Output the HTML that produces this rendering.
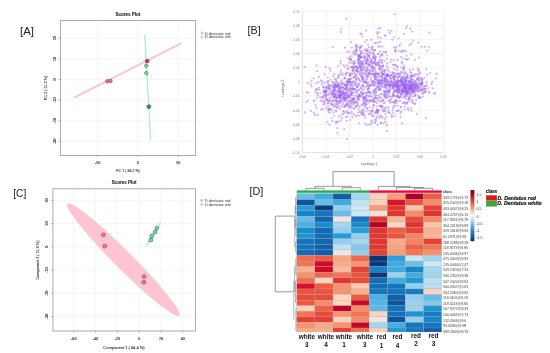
<!DOCTYPE html><html><head><meta charset="utf-8"><style>html,body{margin:0;padding:0;background:#fff;}svg{display:block;filter:blur(0.3px);}text{font-family:"Liberation Sans", sans-serif;}</style></head><body>
<svg width="550" height="353" viewBox="0 0 550 353">
<rect width="550" height="353" fill="#fff"/>
<text x="20.0" y="35.0" font-size="11.6" fill="#222" textLength="14.0" lengthAdjust="spacingAndGlyphs">[A]</text>
<text x="247.6" y="33.8" font-size="11.6" fill="#222" textLength="13.1" lengthAdjust="spacingAndGlyphs">[B]</text>
<text x="13.3" y="196.8" font-size="11.6" fill="#222" textLength="13.0" lengthAdjust="spacingAndGlyphs">[C]</text>
<text x="249.4" y="195.3" font-size="11.6" fill="#222" textLength="13.9" lengthAdjust="spacingAndGlyphs">[D]</text>
<line x1="97.7" y1="20.5" x2="97.7" y2="155.5" stroke="#ececec" stroke-width="0.5"/>
<line x1="137.9" y1="20.5" x2="137.9" y2="155.5" stroke="#ececec" stroke-width="0.5"/>
<line x1="178.2" y1="20.5" x2="178.2" y2="155.5" stroke="#ececec" stroke-width="0.5"/>
<line x1="60.4" y1="38.3" x2="195.6" y2="38.3" stroke="#ececec" stroke-width="0.5"/>
<line x1="60.4" y1="58.9" x2="195.6" y2="58.9" stroke="#ececec" stroke-width="0.5"/>
<line x1="60.4" y1="79.5" x2="195.6" y2="79.5" stroke="#ececec" stroke-width="0.5"/>
<line x1="60.4" y1="100.1" x2="195.6" y2="100.1" stroke="#ececec" stroke-width="0.5"/>
<line x1="60.4" y1="120.7" x2="195.6" y2="120.7" stroke="#ececec" stroke-width="0.5"/>
<line x1="60.4" y1="141.3" x2="195.6" y2="141.3" stroke="#ececec" stroke-width="0.5"/>
<line x1="74.7" y1="97.4" x2="180.5" y2="43.6" stroke="#FBC6D1" stroke-width="2.0" stroke-linecap="round"/>
<line x1="144.7" y1="35" x2="150.6" y2="140.6" stroke="#B4EBCD" stroke-width="1.3"/>
<circle cx="107.3" cy="81.3" r="1.75" fill="#EE7C9A" stroke="#7A2A40" stroke-width="0.55"/>
<circle cx="110.5" cy="80.9" r="1.75" fill="#EE7C9A" stroke="#7A2A40" stroke-width="0.55"/>
<circle cx="146.3" cy="65.7" r="1.75" fill="#78DDA4" stroke="#2E5E42" stroke-width="0.55"/>
<circle cx="146.3" cy="73.1" r="1.75" fill="#78DDA4" stroke="#2E5E42" stroke-width="0.55"/>
<circle cx="148.6" cy="106.9" r="1.75" fill="#78DDA4" stroke="#2E5E42" stroke-width="0.55"/>
<circle cx="149.1" cy="106.4" r="1.75" fill="#2FA060" stroke="#2E5E42" stroke-width="0.55"/>
<circle cx="147.2" cy="61" r="1.85" fill="#E8305A" stroke="#5A1A2A" stroke-width="0.55"/>
<rect x="60.4" y="20.5" width="135.2" height="135" fill="none" stroke="#a2a2a2" stroke-width="0.9"/>
<line x1="97.7" y1="155.5" x2="97.7" y2="157.3" stroke="#777" stroke-width="0.5"/>
<text x="97.7" y="163.6" font-size="3.7" fill="#333" stroke="#333" stroke-width="0.12" text-anchor="middle">-50</text>
<line x1="137.9" y1="155.5" x2="137.9" y2="157.3" stroke="#777" stroke-width="0.5"/>
<text x="137.9" y="163.6" font-size="3.7" fill="#333" stroke="#333" stroke-width="0.12" text-anchor="middle">0</text>
<line x1="178.2" y1="155.5" x2="178.2" y2="157.3" stroke="#777" stroke-width="0.5"/>
<text x="178.2" y="163.6" font-size="3.7" fill="#333" stroke="#333" stroke-width="0.12" text-anchor="middle">50</text>
<line x1="58.6" y1="38.3" x2="60.4" y2="38.3" stroke="#777" stroke-width="0.5"/>
<text x="54.8" y="39.6" font-size="3.7" fill="#333" stroke="#333" stroke-width="0.12" text-anchor="middle" transform="rotate(-90 54.8 38.3)">20</text>
<line x1="58.6" y1="58.9" x2="60.4" y2="58.9" stroke="#777" stroke-width="0.5"/>
<text x="54.8" y="60.2" font-size="3.7" fill="#333" stroke="#333" stroke-width="0.12" text-anchor="middle" transform="rotate(-90 54.8 58.9)">10</text>
<line x1="58.6" y1="79.5" x2="60.4" y2="79.5" stroke="#777" stroke-width="0.5"/>
<text x="54.8" y="80.8" font-size="3.7" fill="#333" stroke="#333" stroke-width="0.12" text-anchor="middle" transform="rotate(-90 54.8 79.5)">0</text>
<line x1="58.6" y1="100.1" x2="60.4" y2="100.1" stroke="#777" stroke-width="0.5"/>
<text x="54.8" y="101.4" font-size="3.7" fill="#333" stroke="#333" stroke-width="0.12" text-anchor="middle" transform="rotate(-90 54.8 100.1)">-10</text>
<line x1="58.6" y1="120.7" x2="60.4" y2="120.7" stroke="#777" stroke-width="0.5"/>
<text x="54.8" y="122" font-size="3.7" fill="#333" stroke="#333" stroke-width="0.12" text-anchor="middle" transform="rotate(-90 54.8 120.7)">-20</text>
<line x1="58.6" y1="141.3" x2="60.4" y2="141.3" stroke="#777" stroke-width="0.5"/>
<text x="54.8" y="142.6" font-size="3.7" fill="#333" stroke="#333" stroke-width="0.12" text-anchor="middle" transform="rotate(-90 54.8 141.3)">-30</text>
<text x="128" y="16.1" font-size="4.5" font-weight="bold" fill="#222" stroke="#222" stroke-width="0.1" text-anchor="middle">Scores Plot</text>
<text x="128" y="172.3" font-size="3.6" fill="#333" stroke="#333" stroke-width="0.1" text-anchor="middle">PC 1 ( 66.2 %)</text>
<text x="45.6" y="88" font-size="3.8" fill="#333" stroke="#333" stroke-width="0.1" text-anchor="middle" transform="rotate(-90 45.6 88) translate(0 1.2)">PC 2 ( 11.2 %)</text>
<circle cx="202.1" cy="33" r="1.4" fill="#F9AFC0"/>
<circle cx="201.9" cy="36.8" r="1.4" fill="#A6E6C2"/>
<text x="205" y="34.5" font-size="3.9" fill="#333">D.dentatus red</text>
<text x="205" y="38.3" font-size="3.9" fill="#333">D.dentatus whi</text>
<line x1="73.8" y1="188.8" x2="73.8" y2="331" stroke="#ececec" stroke-width="0.5"/>
<line x1="95.6" y1="188.8" x2="95.6" y2="331" stroke="#ececec" stroke-width="0.5"/>
<line x1="117.4" y1="188.8" x2="117.4" y2="331" stroke="#ececec" stroke-width="0.5"/>
<line x1="139.3" y1="188.8" x2="139.3" y2="331" stroke="#ececec" stroke-width="0.5"/>
<line x1="161" y1="188.8" x2="161" y2="331" stroke="#ececec" stroke-width="0.5"/>
<line x1="182.7" y1="188.8" x2="182.7" y2="331" stroke="#ececec" stroke-width="0.5"/>
<line x1="52.9" y1="200.4" x2="195.4" y2="200.4" stroke="#ececec" stroke-width="0.5"/>
<line x1="52.9" y1="223.6" x2="195.4" y2="223.6" stroke="#ececec" stroke-width="0.5"/>
<line x1="52.9" y1="246.8" x2="195.4" y2="246.8" stroke="#ececec" stroke-width="0.5"/>
<line x1="52.9" y1="270" x2="195.4" y2="270" stroke="#ececec" stroke-width="0.5"/>
<line x1="52.9" y1="293.3" x2="195.4" y2="293.3" stroke="#ececec" stroke-width="0.5"/>
<line x1="52.9" y1="316.5" x2="195.4" y2="316.5" stroke="#ececec" stroke-width="0.5"/>
<ellipse cx="123.4" cy="259.8" rx="79.4" ry="9.0" fill="#FCC5D1" transform="rotate(45 123.4 259.8)"/>
<ellipse cx="153.4" cy="234.3" rx="14.6" ry="1.3" fill="#B6EACB" transform="rotate(-59 153.4 234.3)"/>
<circle cx="103.4" cy="234.8" r="1.9" fill="#EE7C9A" stroke="#7A2A40" stroke-width="0.55"/>
<circle cx="104.7" cy="246.1" r="1.9" fill="#EE7C9A" stroke="#7A2A40" stroke-width="0.55"/>
<circle cx="144.2" cy="276.6" r="1.9" fill="#EE7C9A" stroke="#7A2A40" stroke-width="0.55"/>
<circle cx="143.8" cy="282.2" r="1.9" fill="#EE7C9A" stroke="#7A2A40" stroke-width="0.55"/>
<circle cx="156.8" cy="228.1" r="1.9" fill="#78DDA4" stroke="#2E5E42" stroke-width="0.55"/>
<circle cx="155.1" cy="232" r="1.9" fill="#78DDA4" stroke="#2E5E42" stroke-width="0.55"/>
<circle cx="151.7" cy="236" r="1.9" fill="#78DDA4" stroke="#2E5E42" stroke-width="0.55"/>
<circle cx="150.9" cy="240" r="1.9" fill="#78DDA4" stroke="#2E5E42" stroke-width="0.55"/>
<rect x="52.9" y="188.8" width="142.5" height="142.2" fill="none" stroke="#a2a2a2" stroke-width="0.9"/>
<line x1="73.8" y1="331" x2="73.8" y2="332.8" stroke="#777" stroke-width="0.5"/>
<text x="73.8" y="339.6" font-size="3.7" fill="#333" stroke="#333" stroke-width="0.12" text-anchor="middle">-60</text>
<line x1="95.6" y1="331" x2="95.6" y2="332.8" stroke="#777" stroke-width="0.5"/>
<text x="95.6" y="339.6" font-size="3.7" fill="#333" stroke="#333" stroke-width="0.12" text-anchor="middle">-40</text>
<line x1="117.4" y1="331" x2="117.4" y2="332.8" stroke="#777" stroke-width="0.5"/>
<text x="117.4" y="339.6" font-size="3.7" fill="#333" stroke="#333" stroke-width="0.12" text-anchor="middle">-20</text>
<line x1="139.3" y1="331" x2="139.3" y2="332.8" stroke="#777" stroke-width="0.5"/>
<text x="139.3" y="339.6" font-size="3.7" fill="#333" stroke="#333" stroke-width="0.12" text-anchor="middle">0</text>
<line x1="161" y1="331" x2="161" y2="332.8" stroke="#777" stroke-width="0.5"/>
<text x="161" y="339.6" font-size="3.7" fill="#333" stroke="#333" stroke-width="0.12" text-anchor="middle">20</text>
<line x1="182.7" y1="331" x2="182.7" y2="332.8" stroke="#777" stroke-width="0.5"/>
<text x="182.7" y="339.6" font-size="3.7" fill="#333" stroke="#333" stroke-width="0.12" text-anchor="middle">40</text>
<line x1="51.1" y1="200.4" x2="52.9" y2="200.4" stroke="#777" stroke-width="0.5"/>
<text x="46.3" y="201.7" font-size="3.7" fill="#333" stroke="#333" stroke-width="0.12" text-anchor="middle" transform="rotate(-90 46.3 200.4)">20</text>
<line x1="51.1" y1="223.6" x2="52.9" y2="223.6" stroke="#777" stroke-width="0.5"/>
<text x="46.3" y="224.9" font-size="3.7" fill="#333" stroke="#333" stroke-width="0.12" text-anchor="middle" transform="rotate(-90 46.3 223.6)">10</text>
<line x1="51.1" y1="246.8" x2="52.9" y2="246.8" stroke="#777" stroke-width="0.5"/>
<text x="46.3" y="248.1" font-size="3.7" fill="#333" stroke="#333" stroke-width="0.12" text-anchor="middle" transform="rotate(-90 46.3 246.8)">0</text>
<line x1="51.1" y1="270" x2="52.9" y2="270" stroke="#777" stroke-width="0.5"/>
<text x="46.3" y="271.3" font-size="3.7" fill="#333" stroke="#333" stroke-width="0.12" text-anchor="middle" transform="rotate(-90 46.3 270)">-10</text>
<line x1="51.1" y1="293.3" x2="52.9" y2="293.3" stroke="#777" stroke-width="0.5"/>
<text x="46.3" y="294.6" font-size="3.7" fill="#333" stroke="#333" stroke-width="0.12" text-anchor="middle" transform="rotate(-90 46.3 293.3)">-20</text>
<line x1="51.1" y1="316.5" x2="52.9" y2="316.5" stroke="#777" stroke-width="0.5"/>
<text x="46.3" y="317.8" font-size="3.7" fill="#333" stroke="#333" stroke-width="0.12" text-anchor="middle" transform="rotate(-90 46.3 316.5)">-30</text>
<text x="124.2" y="184.2" font-size="4.5" font-weight="bold" fill="#222" stroke="#222" stroke-width="0.1" text-anchor="middle">Scores Plot</text>
<text x="124" y="348.7" font-size="4.0" fill="#333" stroke="#333" stroke-width="0.1" text-anchor="middle">Component 1 ( 64.4 %)</text>
<text x="38.2" y="260" font-size="3.8" fill="#333" stroke="#333" stroke-width="0.1" text-anchor="middle" transform="rotate(-90 38.2 260) translate(0 1.2)">Component 2 ( 11.6 %)</text>
<circle cx="201.6" cy="200.5" r="1.4" fill="#F9AFC0"/>
<circle cx="201.6" cy="204.5" r="1.4" fill="#A6E6C2"/>
<text x="205" y="202.0" font-size="3.9" fill="#333">D.dentatus red</text>
<text x="205" y="206.0" font-size="3.9" fill="#333">D.dentatus whi</text>
<line x1="302.4" y1="11.2" x2="302.4" y2="152.6" stroke="#e6e6e6" stroke-width="0.5"/>
<text x="302.4" y="157.8" font-size="3.1" fill="#808080" text-anchor="middle">-0.06</text>
<line x1="325.9" y1="11.2" x2="325.9" y2="152.6" stroke="#e6e6e6" stroke-width="0.5"/>
<text x="325.9" y="157.8" font-size="3.1" fill="#808080" text-anchor="middle">-0.04</text>
<line x1="349.4" y1="11.2" x2="349.4" y2="152.6" stroke="#e6e6e6" stroke-width="0.5"/>
<text x="349.4" y="157.8" font-size="3.1" fill="#808080" text-anchor="middle">-0.02</text>
<line x1="372.9" y1="11.2" x2="372.9" y2="152.6" stroke="#e6e6e6" stroke-width="0.5"/>
<text x="372.9" y="157.8" font-size="3.1" fill="#808080" text-anchor="middle">0</text>
<line x1="396.4" y1="11.2" x2="396.4" y2="152.6" stroke="#e6e6e6" stroke-width="0.5"/>
<text x="396.4" y="157.8" font-size="3.1" fill="#808080" text-anchor="middle">0.02</text>
<line x1="419.9" y1="11.2" x2="419.9" y2="152.6" stroke="#e6e6e6" stroke-width="0.5"/>
<text x="419.9" y="157.8" font-size="3.1" fill="#808080" text-anchor="middle">0.04</text>
<line x1="443.4" y1="11.2" x2="443.4" y2="152.6" stroke="#e6e6e6" stroke-width="0.5"/>
<text x="443.4" y="157.8" font-size="3.1" fill="#808080" text-anchor="middle">0.06</text>
<line x1="302.4" y1="11.2" x2="443.4" y2="11.2" stroke="#e6e6e6" stroke-width="0.5"/>
<text x="299.6" y="12.6" font-size="3.1" fill="#808080" text-anchor="end">0.10</text>
<line x1="302.4" y1="25.34" x2="443.4" y2="25.34" stroke="#e6e6e6" stroke-width="0.5"/>
<text x="299.6" y="26.74" font-size="3.1" fill="#808080" text-anchor="end">0.08</text>
<line x1="302.4" y1="39.48" x2="443.4" y2="39.48" stroke="#e6e6e6" stroke-width="0.5"/>
<text x="299.6" y="40.88" font-size="3.1" fill="#808080" text-anchor="end">0.06</text>
<line x1="302.4" y1="53.62" x2="443.4" y2="53.62" stroke="#e6e6e6" stroke-width="0.5"/>
<text x="299.6" y="55.02" font-size="3.1" fill="#808080" text-anchor="end">0.04</text>
<line x1="302.4" y1="67.76" x2="443.4" y2="67.76" stroke="#e6e6e6" stroke-width="0.5"/>
<text x="299.6" y="69.16" font-size="3.1" fill="#808080" text-anchor="end">0.02</text>
<line x1="302.4" y1="81.9" x2="443.4" y2="81.9" stroke="#e6e6e6" stroke-width="0.5"/>
<text x="299.6" y="83.3" font-size="3.1" fill="#808080" text-anchor="end">0</text>
<line x1="302.4" y1="96.04" x2="443.4" y2="96.04" stroke="#e6e6e6" stroke-width="0.5"/>
<text x="299.6" y="97.44" font-size="3.1" fill="#808080" text-anchor="end">-0.02</text>
<line x1="302.4" y1="110.18" x2="443.4" y2="110.18" stroke="#e6e6e6" stroke-width="0.5"/>
<text x="299.6" y="111.58" font-size="3.1" fill="#808080" text-anchor="end">-0.04</text>
<line x1="302.4" y1="124.32" x2="443.4" y2="124.32" stroke="#e6e6e6" stroke-width="0.5"/>
<text x="299.6" y="125.72" font-size="3.1" fill="#808080" text-anchor="end">-0.06</text>
<line x1="302.4" y1="138.46" x2="443.4" y2="138.46" stroke="#e6e6e6" stroke-width="0.5"/>
<text x="299.6" y="139.86" font-size="3.1" fill="#808080" text-anchor="end">-0.08</text>
<line x1="302.4" y1="152.6" x2="443.4" y2="152.6" stroke="#e6e6e6" stroke-width="0.5"/>
<text x="299.6" y="154" font-size="3.1" fill="#808080" text-anchor="end">-0.10</text>
<line x1="302.4" y1="11.2" x2="302.4" y2="152.6" stroke="#d4d4d4" stroke-width="0.6"/>
<line x1="302.4" y1="152.6" x2="443.4" y2="152.6" stroke="#d4d4d4" stroke-width="0.6"/>
<text x="369" y="165.2" font-size="3.3" fill="#666" text-anchor="middle">Loadings 1</text>
<text x="282.8" y="88" font-size="3.5" fill="#666" text-anchor="middle" transform="rotate(-90 282.8 88) translate(0 1.1)">Loadings 2</text>
<g fill="#9A5FF2" fill-opacity="0.46">
<circle cx="403.2" cy="89.3" r="1.12"/>
<circle cx="403.5" cy="84.0" r="1.12"/>
<circle cx="395.8" cy="84.6" r="1.12"/>
<circle cx="418.2" cy="88.8" r="1.12"/>
<circle cx="417.4" cy="87.6" r="1.12"/>
<circle cx="410.3" cy="87.2" r="1.12"/>
<circle cx="387.7" cy="91.6" r="1.12"/>
<circle cx="411.6" cy="89.2" r="1.12"/>
<circle cx="387.4" cy="74.7" r="1.12"/>
<circle cx="396.2" cy="83.0" r="1.12"/>
<circle cx="409.4" cy="85.7" r="1.12"/>
<circle cx="411.7" cy="81.8" r="1.12"/>
<circle cx="409.4" cy="88.6" r="1.12"/>
<circle cx="398.7" cy="97.2" r="1.12"/>
<circle cx="412.1" cy="93.8" r="1.12"/>
<circle cx="399.2" cy="81.2" r="1.12"/>
<circle cx="402.2" cy="85.3" r="1.12"/>
<circle cx="413.0" cy="87.6" r="1.12"/>
<circle cx="401.1" cy="79.8" r="1.12"/>
<circle cx="400.3" cy="93.9" r="1.12"/>
<circle cx="397.1" cy="87.6" r="1.12"/>
<circle cx="410.7" cy="76.3" r="1.12"/>
<circle cx="406.5" cy="94.5" r="1.12"/>
<circle cx="383.8" cy="83.9" r="1.12"/>
<circle cx="404.8" cy="80.7" r="1.12"/>
<circle cx="411.5" cy="85.6" r="1.12"/>
<circle cx="389.9" cy="91.4" r="1.12"/>
<circle cx="413.4" cy="92.1" r="1.12"/>
<circle cx="421.8" cy="88.4" r="1.12"/>
<circle cx="407.3" cy="77.6" r="1.12"/>
<circle cx="412.8" cy="82.0" r="1.12"/>
<circle cx="401.0" cy="77.8" r="1.12"/>
<circle cx="395.4" cy="82.5" r="1.12"/>
<circle cx="420.2" cy="72.8" r="1.12"/>
<circle cx="390.0" cy="87.6" r="1.12"/>
<circle cx="421.9" cy="89.8" r="1.12"/>
<circle cx="385.1" cy="69.6" r="1.12"/>
<circle cx="409.9" cy="81.2" r="1.12"/>
<circle cx="393.7" cy="92.4" r="1.12"/>
<circle cx="418.1" cy="87.0" r="1.12"/>
<circle cx="408.7" cy="88.8" r="1.12"/>
<circle cx="423.5" cy="90.0" r="1.12"/>
<circle cx="411.7" cy="89.6" r="1.12"/>
<circle cx="388.7" cy="94.3" r="1.12"/>
<circle cx="416.5" cy="89.4" r="1.12"/>
<circle cx="384.3" cy="81.9" r="1.12"/>
<circle cx="415.3" cy="74.2" r="1.12"/>
<circle cx="404.0" cy="92.6" r="1.12"/>
<circle cx="391.6" cy="96.5" r="1.12"/>
<circle cx="412.1" cy="85.0" r="1.12"/>
<circle cx="409.6" cy="90.2" r="1.12"/>
<circle cx="407.3" cy="93.4" r="1.12"/>
<circle cx="398.7" cy="83.3" r="1.12"/>
<circle cx="417.5" cy="86.2" r="1.12"/>
<circle cx="396.3" cy="92.2" r="1.12"/>
<circle cx="422.1" cy="83.1" r="1.12"/>
<circle cx="390.8" cy="85.1" r="1.12"/>
<circle cx="404.4" cy="84.1" r="1.12"/>
<circle cx="421.5" cy="79.3" r="1.12"/>
<circle cx="419.9" cy="77.8" r="1.12"/>
<circle cx="397.3" cy="90.1" r="1.12"/>
<circle cx="418.4" cy="91.6" r="1.12"/>
<circle cx="409.8" cy="86.9" r="1.12"/>
<circle cx="407.7" cy="89.7" r="1.12"/>
<circle cx="404.1" cy="87.8" r="1.12"/>
<circle cx="412.3" cy="86.0" r="1.12"/>
<circle cx="414.4" cy="89.7" r="1.12"/>
<circle cx="428.1" cy="88.1" r="1.12"/>
<circle cx="401.3" cy="83.6" r="1.12"/>
<circle cx="405.9" cy="92.0" r="1.12"/>
<circle cx="402.3" cy="88.5" r="1.12"/>
<circle cx="426.2" cy="69.3" r="1.12"/>
<circle cx="393.6" cy="87.6" r="1.12"/>
<circle cx="410.4" cy="87.6" r="1.12"/>
<circle cx="401.3" cy="90.3" r="1.12"/>
<circle cx="409.1" cy="82.6" r="1.12"/>
<circle cx="432.7" cy="88.3" r="1.12"/>
<circle cx="399.9" cy="85.4" r="1.12"/>
<circle cx="403.5" cy="85.6" r="1.12"/>
<circle cx="376.0" cy="82.8" r="1.12"/>
<circle cx="417.1" cy="78.4" r="1.12"/>
<circle cx="405.3" cy="92.2" r="1.12"/>
<circle cx="415.4" cy="95.7" r="1.12"/>
<circle cx="387.3" cy="83.7" r="1.12"/>
<circle cx="402.2" cy="90.1" r="1.12"/>
<circle cx="418.0" cy="68.6" r="1.12"/>
<circle cx="418.0" cy="76.6" r="1.12"/>
<circle cx="413.5" cy="76.3" r="1.12"/>
<circle cx="407.9" cy="93.8" r="1.12"/>
<circle cx="404.4" cy="87.2" r="1.12"/>
<circle cx="414.8" cy="86.9" r="1.12"/>
<circle cx="405.0" cy="96.0" r="1.12"/>
<circle cx="417.5" cy="84.1" r="1.12"/>
<circle cx="436.2" cy="78.5" r="1.12"/>
<circle cx="416.1" cy="84.3" r="1.12"/>
<circle cx="407.5" cy="90.6" r="1.12"/>
<circle cx="408.4" cy="90.2" r="1.12"/>
<circle cx="389.2" cy="76.2" r="1.12"/>
<circle cx="412.8" cy="79.7" r="1.12"/>
<circle cx="394.7" cy="76.4" r="1.12"/>
<circle cx="419.9" cy="90.9" r="1.12"/>
<circle cx="422.2" cy="79.9" r="1.12"/>
<circle cx="406.0" cy="78.6" r="1.12"/>
<circle cx="414.4" cy="96.3" r="1.12"/>
<circle cx="396.2" cy="96.1" r="1.12"/>
<circle cx="416.9" cy="84.8" r="1.12"/>
<circle cx="384.3" cy="95.1" r="1.12"/>
<circle cx="404.9" cy="82.1" r="1.12"/>
<circle cx="410.4" cy="88.7" r="1.12"/>
<circle cx="422.5" cy="79.4" r="1.12"/>
<circle cx="418.5" cy="95.7" r="1.12"/>
<circle cx="422.0" cy="84.8" r="1.12"/>
<circle cx="397.8" cy="92.6" r="1.12"/>
<circle cx="407.3" cy="86.8" r="1.12"/>
<circle cx="421.7" cy="84.3" r="1.12"/>
<circle cx="380.7" cy="83.5" r="1.12"/>
<circle cx="385.6" cy="91.3" r="1.12"/>
<circle cx="409.5" cy="82.0" r="1.12"/>
<circle cx="405.9" cy="91.4" r="1.12"/>
<circle cx="406.9" cy="94.6" r="1.12"/>
<circle cx="405.3" cy="92.8" r="1.12"/>
<circle cx="422.4" cy="96.5" r="1.12"/>
<circle cx="398.6" cy="91.7" r="1.12"/>
<circle cx="385.4" cy="79.0" r="1.12"/>
<circle cx="384.4" cy="92.9" r="1.12"/>
<circle cx="392.4" cy="85.9" r="1.12"/>
<circle cx="403.9" cy="85.8" r="1.12"/>
<circle cx="399.5" cy="87.5" r="1.12"/>
<circle cx="425.7" cy="86.3" r="1.12"/>
<circle cx="411.8" cy="92.5" r="1.12"/>
<circle cx="403.8" cy="77.8" r="1.12"/>
<circle cx="399.9" cy="93.0" r="1.12"/>
<circle cx="387.9" cy="82.1" r="1.12"/>
<circle cx="417.1" cy="91.2" r="1.12"/>
<circle cx="406.1" cy="91.2" r="1.12"/>
<circle cx="407.8" cy="78.3" r="1.12"/>
<circle cx="388.8" cy="81.8" r="1.12"/>
<circle cx="416.2" cy="82.3" r="1.12"/>
<circle cx="396.1" cy="81.0" r="1.12"/>
<circle cx="389.2" cy="85.2" r="1.12"/>
<circle cx="393.0" cy="88.4" r="1.12"/>
<circle cx="380.0" cy="88.1" r="1.12"/>
<circle cx="398.9" cy="73.4" r="1.12"/>
<circle cx="414.0" cy="84.2" r="1.12"/>
<circle cx="381.5" cy="80.3" r="1.12"/>
<circle cx="409.2" cy="83.0" r="1.12"/>
<circle cx="414.6" cy="90.9" r="1.12"/>
<circle cx="413.3" cy="88.1" r="1.12"/>
<circle cx="420.7" cy="90.3" r="1.12"/>
<circle cx="411.0" cy="72.5" r="1.12"/>
<circle cx="415.9" cy="94.5" r="1.12"/>
<circle cx="402.7" cy="82.9" r="1.12"/>
<circle cx="427.3" cy="74.6" r="1.12"/>
<circle cx="411.2" cy="101.8" r="1.12"/>
<circle cx="395.8" cy="90.5" r="1.12"/>
<circle cx="426.8" cy="85.2" r="1.12"/>
<circle cx="412.2" cy="91.9" r="1.12"/>
<circle cx="396.0" cy="85.4" r="1.12"/>
<circle cx="409.2" cy="91.4" r="1.12"/>
<circle cx="405.6" cy="84.7" r="1.12"/>
<circle cx="394.8" cy="83.7" r="1.12"/>
<circle cx="415.8" cy="86.7" r="1.12"/>
<circle cx="396.6" cy="80.5" r="1.12"/>
<circle cx="435.3" cy="93.4" r="1.12"/>
<circle cx="413.0" cy="69.1" r="1.12"/>
<circle cx="412.8" cy="89.1" r="1.12"/>
<circle cx="424.5" cy="88.8" r="1.12"/>
<circle cx="405.3" cy="89.4" r="1.12"/>
<circle cx="384.6" cy="92.7" r="1.12"/>
<circle cx="409.6" cy="81.4" r="1.12"/>
<circle cx="420.6" cy="97.8" r="1.12"/>
<circle cx="390.6" cy="81.7" r="1.12"/>
<circle cx="409.2" cy="87.2" r="1.12"/>
<circle cx="401.6" cy="79.7" r="1.12"/>
<circle cx="429.3" cy="92.7" r="1.12"/>
<circle cx="392.9" cy="77.3" r="1.12"/>
<circle cx="424.7" cy="92.4" r="1.12"/>
<circle cx="426.0" cy="91.3" r="1.12"/>
<circle cx="396.4" cy="87.7" r="1.12"/>
<circle cx="382.2" cy="81.1" r="1.12"/>
<circle cx="405.4" cy="89.4" r="1.12"/>
<circle cx="398.0" cy="85.2" r="1.12"/>
<circle cx="411.0" cy="88.4" r="1.12"/>
<circle cx="413.0" cy="87.4" r="1.12"/>
<circle cx="402.4" cy="91.1" r="1.12"/>
<circle cx="406.5" cy="80.6" r="1.12"/>
<circle cx="399.1" cy="86.0" r="1.12"/>
<circle cx="404.8" cy="87.0" r="1.12"/>
<circle cx="406.0" cy="87.1" r="1.12"/>
<circle cx="404.5" cy="77.8" r="1.12"/>
<circle cx="410.6" cy="92.8" r="1.12"/>
<circle cx="410.8" cy="84.8" r="1.12"/>
<circle cx="410.9" cy="79.7" r="1.12"/>
<circle cx="385.1" cy="86.4" r="1.12"/>
<circle cx="395.8" cy="90.8" r="1.12"/>
<circle cx="394.1" cy="68.9" r="1.12"/>
<circle cx="394.6" cy="96.3" r="1.12"/>
<circle cx="401.8" cy="77.1" r="1.12"/>
<circle cx="397.6" cy="89.4" r="1.12"/>
<circle cx="411.5" cy="87.1" r="1.12"/>
<circle cx="422.3" cy="90.6" r="1.12"/>
<circle cx="405.8" cy="89.9" r="1.12"/>
<circle cx="424.2" cy="92.3" r="1.12"/>
<circle cx="417.3" cy="79.0" r="1.12"/>
<circle cx="404.4" cy="90.7" r="1.12"/>
<circle cx="402.7" cy="92.9" r="1.12"/>
<circle cx="412.6" cy="91.9" r="1.12"/>
<circle cx="403.7" cy="102.6" r="1.12"/>
<circle cx="419.6" cy="84.6" r="1.12"/>
<circle cx="407.0" cy="102.9" r="1.12"/>
<circle cx="402.2" cy="91.7" r="1.12"/>
<circle cx="416.8" cy="86.0" r="1.12"/>
<circle cx="393.2" cy="87.2" r="1.12"/>
<circle cx="410.0" cy="93.3" r="1.12"/>
<circle cx="414.6" cy="86.2" r="1.12"/>
<circle cx="415.4" cy="89.5" r="1.12"/>
<circle cx="408.3" cy="86.4" r="1.12"/>
<circle cx="403.3" cy="90.5" r="1.12"/>
<circle cx="394.4" cy="81.9" r="1.12"/>
<circle cx="406.1" cy="76.5" r="1.12"/>
<circle cx="401.2" cy="72.9" r="1.12"/>
<circle cx="398.5" cy="89.7" r="1.12"/>
<circle cx="412.2" cy="85.6" r="1.12"/>
<circle cx="403.4" cy="76.8" r="1.12"/>
<circle cx="426.1" cy="89.4" r="1.12"/>
<circle cx="418.0" cy="80.3" r="1.12"/>
<circle cx="404.0" cy="74.2" r="1.12"/>
<circle cx="414.6" cy="92.1" r="1.12"/>
<circle cx="385.1" cy="85.7" r="1.12"/>
<circle cx="412.9" cy="74.5" r="1.12"/>
<circle cx="385.9" cy="79.1" r="1.12"/>
<circle cx="399.1" cy="76.9" r="1.12"/>
<circle cx="406.3" cy="87.6" r="1.12"/>
<circle cx="413.0" cy="90.6" r="1.12"/>
<circle cx="422.5" cy="93.6" r="1.12"/>
<circle cx="391.6" cy="82.7" r="1.12"/>
<circle cx="394.3" cy="79.0" r="1.12"/>
<circle cx="405.1" cy="86.0" r="1.12"/>
<circle cx="411.4" cy="75.7" r="1.12"/>
<circle cx="392.4" cy="85.8" r="1.12"/>
<circle cx="403.8" cy="84.0" r="1.12"/>
<circle cx="405.3" cy="81.1" r="1.12"/>
<circle cx="413.7" cy="88.3" r="1.12"/>
<circle cx="405.0" cy="81.6" r="1.12"/>
<circle cx="404.1" cy="68.3" r="1.12"/>
<circle cx="395.2" cy="86.2" r="1.12"/>
<circle cx="389.5" cy="87.3" r="1.12"/>
<circle cx="407.6" cy="77.0" r="1.12"/>
<circle cx="403.2" cy="84.0" r="1.12"/>
<circle cx="411.1" cy="90.0" r="1.12"/>
<circle cx="405.6" cy="80.5" r="1.12"/>
<circle cx="404.4" cy="85.6" r="1.12"/>
<circle cx="414.1" cy="87.9" r="1.12"/>
<circle cx="398.1" cy="77.2" r="1.12"/>
<circle cx="401.9" cy="81.2" r="1.12"/>
<circle cx="393.8" cy="85.2" r="1.12"/>
<circle cx="400.6" cy="86.7" r="1.12"/>
<circle cx="411.8" cy="83.3" r="1.12"/>
<circle cx="431.6" cy="83.9" r="1.12"/>
<circle cx="418.1" cy="86.8" r="1.12"/>
<circle cx="418.3" cy="70.6" r="1.12"/>
<circle cx="397.7" cy="87.6" r="1.12"/>
<circle cx="412.6" cy="101.2" r="1.12"/>
<circle cx="409.5" cy="94.3" r="1.12"/>
<circle cx="414.4" cy="92.2" r="1.12"/>
<circle cx="411.6" cy="85.0" r="1.12"/>
<circle cx="411.6" cy="79.0" r="1.12"/>
<circle cx="419.0" cy="79.4" r="1.12"/>
<circle cx="408.7" cy="99.8" r="1.12"/>
<circle cx="403.5" cy="86.1" r="1.12"/>
<circle cx="418.8" cy="86.2" r="1.12"/>
<circle cx="397.1" cy="87.7" r="1.12"/>
<circle cx="412.4" cy="90.6" r="1.12"/>
<circle cx="397.5" cy="97.4" r="1.12"/>
<circle cx="424.3" cy="86.1" r="1.12"/>
<circle cx="409.0" cy="83.2" r="1.12"/>
<circle cx="421.6" cy="81.4" r="1.12"/>
<circle cx="413.4" cy="82.9" r="1.12"/>
<circle cx="398.4" cy="90.7" r="1.12"/>
<circle cx="420.7" cy="85.9" r="1.12"/>
<circle cx="398.5" cy="91.3" r="1.12"/>
<circle cx="405.5" cy="88.0" r="1.12"/>
<circle cx="422.8" cy="93.4" r="1.12"/>
<circle cx="400.3" cy="100.8" r="1.12"/>
<circle cx="406.0" cy="91.1" r="1.12"/>
<circle cx="398.9" cy="85.7" r="1.12"/>
<circle cx="386.8" cy="97.6" r="1.12"/>
<circle cx="421.0" cy="78.1" r="1.12"/>
<circle cx="389.4" cy="75.5" r="1.12"/>
<circle cx="418.9" cy="83.0" r="1.12"/>
<circle cx="405.3" cy="84.0" r="1.12"/>
<circle cx="404.7" cy="78.9" r="1.12"/>
<circle cx="406.3" cy="76.7" r="1.12"/>
<circle cx="405.2" cy="88.0" r="1.12"/>
<circle cx="411.1" cy="84.5" r="1.12"/>
<circle cx="396.1" cy="87.0" r="1.12"/>
<circle cx="400.7" cy="96.2" r="1.12"/>
<circle cx="414.4" cy="85.3" r="1.12"/>
<circle cx="400.8" cy="81.4" r="1.12"/>
<circle cx="395.7" cy="83.7" r="1.12"/>
<circle cx="409.2" cy="89.4" r="1.12"/>
<circle cx="412.3" cy="99.6" r="1.12"/>
<circle cx="398.2" cy="86.1" r="1.12"/>
<circle cx="436.7" cy="73.9" r="1.12"/>
<circle cx="400.3" cy="87.1" r="1.12"/>
<circle cx="407.7" cy="88.7" r="1.12"/>
<circle cx="403.4" cy="88.4" r="1.12"/>
<circle cx="406.6" cy="91.0" r="1.12"/>
<circle cx="385.2" cy="80.2" r="1.12"/>
<circle cx="406.0" cy="79.3" r="1.12"/>
<circle cx="394.5" cy="90.1" r="1.12"/>
<circle cx="398.9" cy="90.1" r="1.12"/>
<circle cx="414.2" cy="88.0" r="1.12"/>
<circle cx="411.6" cy="85.3" r="1.12"/>
<circle cx="390.5" cy="85.8" r="1.12"/>
<circle cx="411.0" cy="82.6" r="1.12"/>
<circle cx="404.9" cy="90.9" r="1.12"/>
<circle cx="396.3" cy="90.2" r="1.12"/>
<circle cx="426.5" cy="82.4" r="1.12"/>
<circle cx="407.6" cy="85.0" r="1.12"/>
<circle cx="422.9" cy="88.1" r="1.12"/>
<circle cx="415.9" cy="81.5" r="1.12"/>
<circle cx="405.8" cy="85.9" r="1.12"/>
<circle cx="386.5" cy="95.4" r="1.12"/>
<circle cx="415.9" cy="74.6" r="1.12"/>
<circle cx="414.2" cy="85.1" r="1.12"/>
<circle cx="410.9" cy="88.4" r="1.12"/>
<circle cx="389.5" cy="84.6" r="1.12"/>
<circle cx="422.4" cy="82.3" r="1.12"/>
<circle cx="394.7" cy="77.2" r="1.12"/>
<circle cx="392.6" cy="88.2" r="1.12"/>
<circle cx="424.6" cy="88.8" r="1.12"/>
<circle cx="408.7" cy="100.5" r="1.12"/>
<circle cx="400.3" cy="81.6" r="1.12"/>
<circle cx="411.8" cy="89.6" r="1.12"/>
<circle cx="394.8" cy="78.4" r="1.12"/>
<circle cx="409.2" cy="87.6" r="1.12"/>
<circle cx="391.6" cy="84.7" r="1.12"/>
<circle cx="400.0" cy="89.0" r="1.12"/>
<circle cx="404.7" cy="85.4" r="1.12"/>
<circle cx="402.1" cy="92.8" r="1.12"/>
<circle cx="421.3" cy="83.6" r="1.12"/>
<circle cx="415.3" cy="81.1" r="1.12"/>
<circle cx="406.8" cy="90.9" r="1.12"/>
<circle cx="422.7" cy="83.5" r="1.12"/>
<circle cx="405.2" cy="87.3" r="1.12"/>
<circle cx="389.5" cy="86.1" r="1.12"/>
<circle cx="398.6" cy="88.4" r="1.12"/>
<circle cx="393.6" cy="73.2" r="1.12"/>
<circle cx="406.4" cy="87.7" r="1.12"/>
<circle cx="400.0" cy="91.8" r="1.12"/>
<circle cx="403.0" cy="82.1" r="1.12"/>
<circle cx="411.3" cy="75.8" r="1.12"/>
<circle cx="398.5" cy="85.9" r="1.12"/>
<circle cx="415.3" cy="84.9" r="1.12"/>
<circle cx="409.4" cy="81.7" r="1.12"/>
<circle cx="409.3" cy="96.8" r="1.12"/>
<circle cx="398.4" cy="101.4" r="1.12"/>
<circle cx="398.9" cy="86.1" r="1.12"/>
<circle cx="407.9" cy="92.7" r="1.12"/>
<circle cx="392.4" cy="72.3" r="1.12"/>
<circle cx="412.7" cy="91.2" r="1.12"/>
<circle cx="412.9" cy="103.1" r="1.12"/>
<circle cx="408.3" cy="87.7" r="1.12"/>
<circle cx="416.2" cy="88.4" r="1.12"/>
<circle cx="424.3" cy="78.0" r="1.12"/>
<circle cx="401.9" cy="63.6" r="1.12"/>
<circle cx="414.9" cy="83.6" r="1.12"/>
<circle cx="416.2" cy="100.0" r="1.12"/>
<circle cx="405.9" cy="84.3" r="1.12"/>
<circle cx="400.5" cy="80.6" r="1.12"/>
<circle cx="399.1" cy="90.2" r="1.12"/>
<circle cx="406.4" cy="86.4" r="1.12"/>
<circle cx="404.1" cy="91.9" r="1.12"/>
<circle cx="411.4" cy="85.1" r="1.12"/>
<circle cx="413.3" cy="85.0" r="1.12"/>
<circle cx="393.3" cy="95.5" r="1.12"/>
<circle cx="411.1" cy="79.8" r="1.12"/>
<circle cx="417.9" cy="88.2" r="1.12"/>
<circle cx="388.8" cy="96.5" r="1.12"/>
<circle cx="409.7" cy="91.8" r="1.12"/>
<circle cx="408.2" cy="85.0" r="1.12"/>
<circle cx="389.0" cy="92.3" r="1.12"/>
<circle cx="406.3" cy="84.1" r="1.12"/>
<circle cx="409.9" cy="86.5" r="1.12"/>
<circle cx="413.4" cy="83.6" r="1.12"/>
<circle cx="405.6" cy="72.1" r="1.12"/>
<circle cx="401.3" cy="90.4" r="1.12"/>
<circle cx="420.7" cy="83.6" r="1.12"/>
<circle cx="404.7" cy="96.3" r="1.12"/>
<circle cx="402.4" cy="90.8" r="1.12"/>
<circle cx="424.5" cy="86.3" r="1.12"/>
<circle cx="419.5" cy="81.4" r="1.12"/>
<circle cx="408.3" cy="85.5" r="1.12"/>
<circle cx="407.3" cy="93.3" r="1.12"/>
<circle cx="432.3" cy="81.7" r="1.12"/>
<circle cx="399.7" cy="89.2" r="1.12"/>
<circle cx="394.4" cy="89.2" r="1.12"/>
<circle cx="412.3" cy="84.2" r="1.12"/>
<circle cx="411.8" cy="75.9" r="1.12"/>
<circle cx="414.4" cy="76.0" r="1.12"/>
<circle cx="398.3" cy="82.4" r="1.12"/>
<circle cx="401.6" cy="91.6" r="1.12"/>
<circle cx="406.9" cy="83.4" r="1.12"/>
<circle cx="412.0" cy="96.3" r="1.12"/>
<circle cx="406.1" cy="88.4" r="1.12"/>
<circle cx="419.6" cy="87.7" r="1.12"/>
<circle cx="391.9" cy="102.2" r="1.12"/>
<circle cx="430.3" cy="73.1" r="1.12"/>
<circle cx="405.6" cy="88.7" r="1.12"/>
<circle cx="416.6" cy="90.3" r="1.12"/>
<circle cx="403.0" cy="79.2" r="1.12"/>
<circle cx="407.1" cy="92.7" r="1.12"/>
<circle cx="394.0" cy="79.3" r="1.12"/>
<circle cx="405.7" cy="73.4" r="1.12"/>
<circle cx="403.1" cy="83.2" r="1.12"/>
<circle cx="411.0" cy="81.4" r="1.12"/>
<circle cx="396.3" cy="83.4" r="1.12"/>
<circle cx="405.5" cy="81.7" r="1.12"/>
<circle cx="406.1" cy="90.9" r="1.12"/>
<circle cx="419.0" cy="97.1" r="1.12"/>
<circle cx="397.4" cy="83.3" r="1.12"/>
<circle cx="378.7" cy="98.3" r="1.12"/>
<circle cx="398.0" cy="85.8" r="1.12"/>
<circle cx="411.7" cy="77.2" r="1.12"/>
<circle cx="411.1" cy="85.8" r="1.12"/>
<circle cx="385.9" cy="87.9" r="1.12"/>
<circle cx="419.1" cy="73.9" r="1.12"/>
<circle cx="414.9" cy="87.4" r="1.12"/>
<circle cx="411.2" cy="88.9" r="1.12"/>
<circle cx="420.3" cy="84.5" r="1.12"/>
<circle cx="415.6" cy="83.3" r="1.12"/>
<circle cx="414.0" cy="80.7" r="1.12"/>
<circle cx="404.8" cy="97.3" r="1.12"/>
<circle cx="410.9" cy="85.0" r="1.12"/>
<circle cx="393.4" cy="80.9" r="1.12"/>
<circle cx="408.1" cy="92.1" r="1.12"/>
<circle cx="410.7" cy="89.4" r="1.12"/>
<circle cx="405.5" cy="94.8" r="1.12"/>
<circle cx="401.7" cy="82.4" r="1.12"/>
<circle cx="415.8" cy="86.4" r="1.12"/>
<circle cx="402.9" cy="82.3" r="1.12"/>
<circle cx="403.2" cy="90.1" r="1.12"/>
<circle cx="409.9" cy="78.1" r="1.12"/>
<circle cx="410.7" cy="87.2" r="1.12"/>
<circle cx="395.0" cy="91.0" r="1.12"/>
<circle cx="402.9" cy="83.8" r="1.12"/>
<circle cx="414.8" cy="94.6" r="1.12"/>
<circle cx="398.4" cy="88.8" r="1.12"/>
<circle cx="396.4" cy="101.0" r="1.12"/>
<circle cx="380.1" cy="89.6" r="1.12"/>
<circle cx="378.5" cy="86.5" r="1.12"/>
<circle cx="407.2" cy="59.7" r="1.12"/>
<circle cx="380.7" cy="84.0" r="1.12"/>
<circle cx="384.1" cy="74.7" r="1.12"/>
<circle cx="406.5" cy="80.6" r="1.12"/>
<circle cx="368.6" cy="86.8" r="1.12"/>
<circle cx="367.8" cy="89.2" r="1.12"/>
<circle cx="379.2" cy="81.2" r="1.12"/>
<circle cx="397.6" cy="80.9" r="1.12"/>
<circle cx="371.1" cy="66.4" r="1.12"/>
<circle cx="396.8" cy="85.9" r="1.12"/>
<circle cx="376.8" cy="86.9" r="1.12"/>
<circle cx="390.0" cy="85.2" r="1.12"/>
<circle cx="362.4" cy="77.6" r="1.12"/>
<circle cx="394.0" cy="85.9" r="1.12"/>
<circle cx="393.8" cy="60.3" r="1.12"/>
<circle cx="386.7" cy="83.9" r="1.12"/>
<circle cx="410.5" cy="72.4" r="1.12"/>
<circle cx="381.7" cy="80.3" r="1.12"/>
<circle cx="393.9" cy="76.5" r="1.12"/>
<circle cx="396.5" cy="73.7" r="1.12"/>
<circle cx="387.7" cy="75.8" r="1.12"/>
<circle cx="386.6" cy="74.5" r="1.12"/>
<circle cx="369.0" cy="88.7" r="1.12"/>
<circle cx="388.0" cy="75.5" r="1.12"/>
<circle cx="387.0" cy="87.9" r="1.12"/>
<circle cx="375.2" cy="79.1" r="1.12"/>
<circle cx="390.4" cy="84.2" r="1.12"/>
<circle cx="381.6" cy="63.1" r="1.12"/>
<circle cx="397.4" cy="82.6" r="1.12"/>
<circle cx="385.1" cy="77.8" r="1.12"/>
<circle cx="387.6" cy="76.6" r="1.12"/>
<circle cx="374.8" cy="74.1" r="1.12"/>
<circle cx="379.0" cy="75.1" r="1.12"/>
<circle cx="373.4" cy="85.1" r="1.12"/>
<circle cx="371.9" cy="85.3" r="1.12"/>
<circle cx="374.9" cy="82.8" r="1.12"/>
<circle cx="398.7" cy="81.6" r="1.12"/>
<circle cx="377.7" cy="80.4" r="1.12"/>
<circle cx="386.5" cy="66.1" r="1.12"/>
<circle cx="378.9" cy="81.3" r="1.12"/>
<circle cx="380.3" cy="80.6" r="1.12"/>
<circle cx="392.3" cy="86.1" r="1.12"/>
<circle cx="394.1" cy="84.7" r="1.12"/>
<circle cx="382.1" cy="79.9" r="1.12"/>
<circle cx="382.3" cy="77.5" r="1.12"/>
<circle cx="383.2" cy="66.2" r="1.12"/>
<circle cx="381.7" cy="79.8" r="1.12"/>
<circle cx="375.3" cy="79.8" r="1.12"/>
<circle cx="390.2" cy="78.7" r="1.12"/>
<circle cx="405.8" cy="59.1" r="1.12"/>
<circle cx="382.9" cy="65.4" r="1.12"/>
<circle cx="394.8" cy="101.2" r="1.12"/>
<circle cx="360.0" cy="81.0" r="1.12"/>
<circle cx="390.2" cy="77.6" r="1.12"/>
<circle cx="390.5" cy="62.1" r="1.12"/>
<circle cx="393.5" cy="83.0" r="1.12"/>
<circle cx="385.2" cy="75.3" r="1.12"/>
<circle cx="391.4" cy="76.1" r="1.12"/>
<circle cx="387.2" cy="75.9" r="1.12"/>
<circle cx="362.5" cy="79.7" r="1.12"/>
<circle cx="387.0" cy="86.0" r="1.12"/>
<circle cx="376.2" cy="79.7" r="1.12"/>
<circle cx="391.2" cy="81.2" r="1.12"/>
<circle cx="397.4" cy="95.9" r="1.12"/>
<circle cx="375.9" cy="64.6" r="1.12"/>
<circle cx="393.6" cy="92.2" r="1.12"/>
<circle cx="394.2" cy="86.5" r="1.12"/>
<circle cx="378.8" cy="74.3" r="1.12"/>
<circle cx="393.9" cy="72.7" r="1.12"/>
<circle cx="366.9" cy="72.0" r="1.12"/>
<circle cx="409.9" cy="95.4" r="1.12"/>
<circle cx="378.1" cy="74.2" r="1.12"/>
<circle cx="387.3" cy="74.0" r="1.12"/>
<circle cx="398.1" cy="79.4" r="1.12"/>
<circle cx="374.1" cy="90.5" r="1.12"/>
<circle cx="379.2" cy="81.8" r="1.12"/>
<circle cx="384.9" cy="77.5" r="1.12"/>
<circle cx="388.2" cy="74.5" r="1.12"/>
<circle cx="366.6" cy="62.3" r="1.12"/>
<circle cx="372.3" cy="73.9" r="1.12"/>
<circle cx="384.8" cy="80.4" r="1.12"/>
<circle cx="390.6" cy="81.0" r="1.12"/>
<circle cx="377.1" cy="74.3" r="1.12"/>
<circle cx="363.8" cy="78.6" r="1.12"/>
<circle cx="389.8" cy="84.2" r="1.12"/>
<circle cx="383.8" cy="78.6" r="1.12"/>
<circle cx="394.4" cy="80.1" r="1.12"/>
<circle cx="392.4" cy="84.7" r="1.12"/>
<circle cx="387.1" cy="90.5" r="1.12"/>
<circle cx="379.3" cy="77.1" r="1.12"/>
<circle cx="376.9" cy="73.6" r="1.12"/>
<circle cx="400.6" cy="94.1" r="1.12"/>
<circle cx="385.2" cy="84.5" r="1.12"/>
<circle cx="396.8" cy="86.5" r="1.12"/>
<circle cx="397.1" cy="69.9" r="1.12"/>
<circle cx="378.6" cy="83.6" r="1.12"/>
<circle cx="399.4" cy="80.8" r="1.12"/>
<circle cx="376.4" cy="77.2" r="1.12"/>
<circle cx="378.4" cy="73.1" r="1.12"/>
<circle cx="400.0" cy="75.0" r="1.12"/>
<circle cx="385.2" cy="97.3" r="1.12"/>
<circle cx="396.8" cy="82.7" r="1.12"/>
<circle cx="378.9" cy="83.3" r="1.12"/>
<circle cx="401.2" cy="85.0" r="1.12"/>
<circle cx="397.6" cy="80.8" r="1.12"/>
<circle cx="390.2" cy="78.4" r="1.12"/>
<circle cx="389.3" cy="90.4" r="1.12"/>
<circle cx="370.7" cy="79.5" r="1.12"/>
<circle cx="387.4" cy="75.4" r="1.12"/>
<circle cx="381.9" cy="86.3" r="1.12"/>
<circle cx="405.0" cy="85.0" r="1.12"/>
<circle cx="388.3" cy="67.6" r="1.12"/>
<circle cx="404.3" cy="80.6" r="1.12"/>
<circle cx="384.7" cy="71.1" r="1.12"/>
<circle cx="384.4" cy="71.2" r="1.12"/>
<circle cx="385.7" cy="83.7" r="1.12"/>
<circle cx="385.3" cy="82.2" r="1.12"/>
<circle cx="376.5" cy="91.4" r="1.12"/>
<circle cx="378.5" cy="65.5" r="1.12"/>
<circle cx="383.1" cy="73.9" r="1.12"/>
<circle cx="374.9" cy="77.2" r="1.12"/>
<circle cx="387.9" cy="70.5" r="1.12"/>
<circle cx="383.6" cy="91.4" r="1.12"/>
<circle cx="391.8" cy="78.8" r="1.12"/>
<circle cx="386.3" cy="79.0" r="1.12"/>
<circle cx="384.5" cy="85.9" r="1.12"/>
<circle cx="384.1" cy="60.8" r="1.12"/>
<circle cx="384.8" cy="72.9" r="1.12"/>
<circle cx="391.5" cy="75.1" r="1.12"/>
<circle cx="386.5" cy="97.4" r="1.12"/>
<circle cx="374.5" cy="71.0" r="1.12"/>
<circle cx="370.9" cy="60.8" r="1.12"/>
<circle cx="366.2" cy="82.9" r="1.12"/>
<circle cx="378.6" cy="65.1" r="1.12"/>
<circle cx="370.2" cy="84.9" r="1.12"/>
<circle cx="377.2" cy="77.1" r="1.12"/>
<circle cx="388.3" cy="90.9" r="1.12"/>
<circle cx="404.4" cy="88.3" r="1.12"/>
<circle cx="386.4" cy="81.5" r="1.12"/>
<circle cx="403.0" cy="91.4" r="1.12"/>
<circle cx="381.9" cy="83.7" r="1.12"/>
<circle cx="387.9" cy="80.4" r="1.12"/>
<circle cx="380.0" cy="69.4" r="1.12"/>
<circle cx="379.7" cy="67.6" r="1.12"/>
<circle cx="397.2" cy="84.3" r="1.12"/>
<circle cx="372.9" cy="91.2" r="1.12"/>
<circle cx="393.9" cy="64.7" r="1.12"/>
<circle cx="403.4" cy="86.5" r="1.12"/>
<circle cx="383.6" cy="52.2" r="1.12"/>
<circle cx="369.8" cy="65.4" r="1.12"/>
<circle cx="366.8" cy="63.4" r="1.12"/>
<circle cx="374.5" cy="50.0" r="1.12"/>
<circle cx="353.8" cy="50.8" r="1.12"/>
<circle cx="360.0" cy="57.2" r="1.12"/>
<circle cx="368.3" cy="64.1" r="1.12"/>
<circle cx="365.3" cy="56.6" r="1.12"/>
<circle cx="361.0" cy="69.6" r="1.12"/>
<circle cx="371.9" cy="62.8" r="1.12"/>
<circle cx="362.1" cy="74.4" r="1.12"/>
<circle cx="359.7" cy="67.2" r="1.12"/>
<circle cx="375.4" cy="59.9" r="1.12"/>
<circle cx="372.4" cy="53.1" r="1.12"/>
<circle cx="374.1" cy="63.6" r="1.12"/>
<circle cx="350.7" cy="67.4" r="1.12"/>
<circle cx="357.0" cy="72.3" r="1.12"/>
<circle cx="358.9" cy="60.7" r="1.12"/>
<circle cx="367.5" cy="59.3" r="1.12"/>
<circle cx="367.3" cy="57.6" r="1.12"/>
<circle cx="371.0" cy="62.0" r="1.12"/>
<circle cx="366.9" cy="40.0" r="1.12"/>
<circle cx="375.5" cy="62.3" r="1.12"/>
<circle cx="349.0" cy="62.8" r="1.12"/>
<circle cx="369.2" cy="70.6" r="1.12"/>
<circle cx="355.3" cy="74.4" r="1.12"/>
<circle cx="363.6" cy="81.2" r="1.12"/>
<circle cx="363.7" cy="67.4" r="1.12"/>
<circle cx="361.7" cy="53.1" r="1.12"/>
<circle cx="374.9" cy="69.3" r="1.12"/>
<circle cx="378.8" cy="68.9" r="1.12"/>
<circle cx="359.8" cy="48.7" r="1.12"/>
<circle cx="359.1" cy="56.6" r="1.12"/>
<circle cx="357.7" cy="66.7" r="1.12"/>
<circle cx="368.0" cy="59.8" r="1.12"/>
<circle cx="366.6" cy="60.8" r="1.12"/>
<circle cx="366.9" cy="68.0" r="1.12"/>
<circle cx="373.6" cy="56.5" r="1.12"/>
<circle cx="351.4" cy="73.4" r="1.12"/>
<circle cx="366.0" cy="70.8" r="1.12"/>
<circle cx="350.2" cy="59.4" r="1.12"/>
<circle cx="365.2" cy="50.5" r="1.12"/>
<circle cx="360.4" cy="67.8" r="1.12"/>
<circle cx="374.7" cy="74.8" r="1.12"/>
<circle cx="357.2" cy="50.8" r="1.12"/>
<circle cx="369.7" cy="69.5" r="1.12"/>
<circle cx="366.7" cy="51.6" r="1.12"/>
<circle cx="372.0" cy="68.3" r="1.12"/>
<circle cx="370.0" cy="58.1" r="1.12"/>
<circle cx="367.7" cy="68.3" r="1.12"/>
<circle cx="360.0" cy="47.3" r="1.12"/>
<circle cx="368.0" cy="65.8" r="1.12"/>
<circle cx="365.1" cy="69.1" r="1.12"/>
<circle cx="359.7" cy="61.3" r="1.12"/>
<circle cx="362.3" cy="66.6" r="1.12"/>
<circle cx="379.4" cy="60.0" r="1.12"/>
<circle cx="383.5" cy="74.2" r="1.12"/>
<circle cx="372.1" cy="66.7" r="1.12"/>
<circle cx="380.9" cy="60.6" r="1.12"/>
<circle cx="364.0" cy="53.5" r="1.12"/>
<circle cx="369.3" cy="72.8" r="1.12"/>
<circle cx="369.8" cy="65.4" r="1.12"/>
<circle cx="363.2" cy="63.4" r="1.12"/>
<circle cx="352.2" cy="70.4" r="1.12"/>
<circle cx="361.3" cy="53.2" r="1.12"/>
<circle cx="358.2" cy="55.4" r="1.12"/>
<circle cx="372.7" cy="70.5" r="1.12"/>
<circle cx="352.8" cy="69.4" r="1.12"/>
<circle cx="373.0" cy="57.4" r="1.12"/>
<circle cx="351.6" cy="56.0" r="1.12"/>
<circle cx="359.3" cy="64.7" r="1.12"/>
<circle cx="361.8" cy="45.8" r="1.12"/>
<circle cx="367.1" cy="49.7" r="1.12"/>
<circle cx="373.1" cy="52.3" r="1.12"/>
<circle cx="358.8" cy="55.2" r="1.12"/>
<circle cx="360.1" cy="72.4" r="1.12"/>
<circle cx="372.7" cy="66.8" r="1.12"/>
<circle cx="367.9" cy="49.6" r="1.12"/>
<circle cx="360.3" cy="57.6" r="1.12"/>
<circle cx="356.2" cy="66.1" r="1.12"/>
<circle cx="358.3" cy="56.3" r="1.12"/>
<circle cx="355.6" cy="45.5" r="1.12"/>
<circle cx="370.4" cy="72.6" r="1.12"/>
<circle cx="366.6" cy="54.2" r="1.12"/>
<circle cx="340.7" cy="63.4" r="1.12"/>
<circle cx="375.9" cy="64.4" r="1.12"/>
<circle cx="373.3" cy="73.8" r="1.12"/>
<circle cx="375.1" cy="58.5" r="1.12"/>
<circle cx="374.5" cy="68.2" r="1.12"/>
<circle cx="351.2" cy="58.8" r="1.12"/>
<circle cx="352.2" cy="61.1" r="1.12"/>
<circle cx="370.2" cy="53.5" r="1.12"/>
<circle cx="346.5" cy="72.4" r="1.12"/>
<circle cx="368.4" cy="73.8" r="1.12"/>
<circle cx="353.1" cy="70.5" r="1.12"/>
<circle cx="383.7" cy="78.1" r="1.12"/>
<circle cx="363.1" cy="64.2" r="1.12"/>
<circle cx="363.6" cy="70.0" r="1.12"/>
<circle cx="374.3" cy="62.7" r="1.12"/>
<circle cx="352.8" cy="67.9" r="1.12"/>
<circle cx="360.8" cy="67.0" r="1.12"/>
<circle cx="367.4" cy="75.0" r="1.12"/>
<circle cx="375.2" cy="58.4" r="1.12"/>
<circle cx="368.1" cy="76.1" r="1.12"/>
<circle cx="360.2" cy="65.5" r="1.12"/>
<circle cx="375.7" cy="72.1" r="1.12"/>
<circle cx="369.7" cy="51.4" r="1.12"/>
<circle cx="353.7" cy="64.0" r="1.12"/>
<circle cx="368.5" cy="82.4" r="1.12"/>
<circle cx="357.2" cy="71.1" r="1.12"/>
<circle cx="371.9" cy="48.6" r="1.12"/>
<circle cx="357.6" cy="63.3" r="1.12"/>
<circle cx="360.6" cy="60.8" r="1.12"/>
<circle cx="369.2" cy="55.5" r="1.12"/>
<circle cx="369.2" cy="56.9" r="1.12"/>
<circle cx="360.1" cy="66.3" r="1.12"/>
<circle cx="359.8" cy="64.3" r="1.12"/>
<circle cx="379.4" cy="62.2" r="1.12"/>
<circle cx="363.7" cy="67.9" r="1.12"/>
<circle cx="361.7" cy="70.7" r="1.12"/>
<circle cx="353.5" cy="66.9" r="1.12"/>
<circle cx="360.4" cy="55.6" r="1.12"/>
<circle cx="380.9" cy="55.2" r="1.12"/>
<circle cx="380.8" cy="67.3" r="1.12"/>
<circle cx="378.1" cy="54.2" r="1.12"/>
<circle cx="375.8" cy="73.7" r="1.12"/>
<circle cx="364.0" cy="61.0" r="1.12"/>
<circle cx="387.1" cy="63.4" r="1.12"/>
<circle cx="361.2" cy="57.0" r="1.12"/>
<circle cx="369.0" cy="64.6" r="1.12"/>
<circle cx="366.6" cy="75.8" r="1.12"/>
<circle cx="362.0" cy="65.8" r="1.12"/>
<circle cx="378.1" cy="54.0" r="1.12"/>
<circle cx="374.3" cy="76.7" r="1.12"/>
<circle cx="352.8" cy="53.2" r="1.12"/>
<circle cx="355.7" cy="47.2" r="1.12"/>
<circle cx="369.1" cy="47.2" r="1.12"/>
<circle cx="369.5" cy="73.6" r="1.12"/>
<circle cx="350.5" cy="59.5" r="1.12"/>
<circle cx="347.7" cy="68.2" r="1.12"/>
<circle cx="358.4" cy="59.9" r="1.12"/>
<circle cx="365.5" cy="66.4" r="1.12"/>
<circle cx="361.9" cy="62.1" r="1.12"/>
<circle cx="360.1" cy="62.9" r="1.12"/>
<circle cx="354.4" cy="62.5" r="1.12"/>
<circle cx="347.6" cy="58.1" r="1.12"/>
<circle cx="382.2" cy="62.6" r="1.12"/>
<circle cx="353.7" cy="64.1" r="1.12"/>
<circle cx="356.2" cy="48.8" r="1.12"/>
<circle cx="358.4" cy="67.9" r="1.12"/>
<circle cx="368.5" cy="61.2" r="1.12"/>
<circle cx="356.7" cy="53.4" r="1.12"/>
<circle cx="377.1" cy="64.0" r="1.12"/>
<circle cx="356.4" cy="45.1" r="1.12"/>
<circle cx="352.7" cy="81.8" r="1.12"/>
<circle cx="354.7" cy="61.4" r="1.12"/>
<circle cx="366.9" cy="60.7" r="1.12"/>
<circle cx="362.5" cy="51.0" r="1.12"/>
<circle cx="355.5" cy="75.5" r="1.12"/>
<circle cx="358.2" cy="68.8" r="1.12"/>
<circle cx="349.8" cy="59.8" r="1.12"/>
<circle cx="367.3" cy="70.3" r="1.12"/>
<circle cx="354.9" cy="66.8" r="1.12"/>
<circle cx="368.5" cy="56.1" r="1.12"/>
<circle cx="369.3" cy="54.8" r="1.12"/>
<circle cx="357.8" cy="61.8" r="1.12"/>
<circle cx="340.6" cy="61.1" r="1.12"/>
<circle cx="356.0" cy="50.3" r="1.12"/>
<circle cx="361.2" cy="68.1" r="1.12"/>
<circle cx="361.4" cy="72.1" r="1.12"/>
<circle cx="354.6" cy="51.5" r="1.12"/>
<circle cx="379.0" cy="65.2" r="1.12"/>
<circle cx="373.5" cy="55.4" r="1.12"/>
<circle cx="372.2" cy="64.1" r="1.12"/>
<circle cx="370.8" cy="62.2" r="1.12"/>
<circle cx="375.9" cy="56.8" r="1.12"/>
<circle cx="356.3" cy="50.2" r="1.12"/>
<circle cx="375.4" cy="56.1" r="1.12"/>
<circle cx="355.6" cy="54.5" r="1.12"/>
<circle cx="361.0" cy="51.8" r="1.12"/>
<circle cx="362.4" cy="57.0" r="1.12"/>
<circle cx="360.0" cy="54.3" r="1.12"/>
<circle cx="365.3" cy="58.3" r="1.12"/>
<circle cx="366.0" cy="64.0" r="1.12"/>
<circle cx="368.1" cy="44.5" r="1.12"/>
<circle cx="360.2" cy="55.6" r="1.12"/>
<circle cx="372.0" cy="49.4" r="1.12"/>
<circle cx="358.6" cy="59.6" r="1.12"/>
<circle cx="362.0" cy="69.9" r="1.12"/>
<circle cx="361.0" cy="69.7" r="1.12"/>
<circle cx="351.8" cy="47.5" r="1.12"/>
<circle cx="376.0" cy="65.5" r="1.12"/>
<circle cx="369.4" cy="63.0" r="1.12"/>
<circle cx="369.4" cy="52.3" r="1.12"/>
<circle cx="373.5" cy="57.7" r="1.12"/>
<circle cx="373.9" cy="62.7" r="1.12"/>
<circle cx="347.2" cy="51.7" r="1.12"/>
<circle cx="375.1" cy="60.9" r="1.12"/>
<circle cx="361.4" cy="63.9" r="1.12"/>
<circle cx="361.2" cy="57.6" r="1.12"/>
<circle cx="365.9" cy="63.2" r="1.12"/>
<circle cx="378.7" cy="62.4" r="1.12"/>
<circle cx="381.9" cy="76.4" r="1.12"/>
<circle cx="380.4" cy="70.5" r="1.12"/>
<circle cx="366.2" cy="63.1" r="1.12"/>
<circle cx="363.7" cy="56.2" r="1.12"/>
<circle cx="364.4" cy="56.9" r="1.12"/>
<circle cx="379.8" cy="66.3" r="1.12"/>
<circle cx="361.0" cy="46.7" r="1.12"/>
<circle cx="364.5" cy="58.7" r="1.12"/>
<circle cx="355.2" cy="52.9" r="1.12"/>
<circle cx="344.7" cy="66.6" r="1.12"/>
<circle cx="364.4" cy="82.6" r="1.12"/>
<circle cx="364.7" cy="60.8" r="1.12"/>
<circle cx="378.0" cy="63.1" r="1.12"/>
<circle cx="366.5" cy="59.0" r="1.12"/>
<circle cx="359.6" cy="74.0" r="1.12"/>
<circle cx="374.0" cy="75.7" r="1.12"/>
<circle cx="361.9" cy="62.2" r="1.12"/>
<circle cx="357.1" cy="69.7" r="1.12"/>
<circle cx="352.5" cy="66.5" r="1.12"/>
<circle cx="374.9" cy="73.3" r="1.12"/>
<circle cx="356.5" cy="70.7" r="1.12"/>
<circle cx="358.6" cy="55.9" r="1.12"/>
<circle cx="353.1" cy="71.2" r="1.12"/>
<circle cx="379.8" cy="57.2" r="1.12"/>
<circle cx="358.2" cy="59.3" r="1.12"/>
<circle cx="387.6" cy="70.0" r="1.12"/>
<circle cx="360.1" cy="47.6" r="1.12"/>
<circle cx="358.9" cy="71.5" r="1.12"/>
<circle cx="381.8" cy="59.9" r="1.12"/>
<circle cx="358.8" cy="57.9" r="1.12"/>
<circle cx="348.0" cy="69.3" r="1.12"/>
<circle cx="355.2" cy="70.5" r="1.12"/>
<circle cx="349.6" cy="51.8" r="1.12"/>
<circle cx="367.6" cy="55.9" r="1.12"/>
<circle cx="372.0" cy="62.1" r="1.12"/>
<circle cx="354.4" cy="67.0" r="1.12"/>
<circle cx="372.6" cy="46.7" r="1.12"/>
<circle cx="381.4" cy="66.0" r="1.12"/>
<circle cx="371.8" cy="47.1" r="1.12"/>
<circle cx="358.5" cy="59.2" r="1.12"/>
<circle cx="374.7" cy="50.3" r="1.12"/>
<circle cx="357.0" cy="45.8" r="1.12"/>
<circle cx="362.8" cy="64.8" r="1.12"/>
<circle cx="349.8" cy="57.3" r="1.12"/>
<circle cx="369.6" cy="74.7" r="1.12"/>
<circle cx="371.0" cy="59.6" r="1.12"/>
<circle cx="354.4" cy="54.5" r="1.12"/>
<circle cx="359.0" cy="63.2" r="1.12"/>
<circle cx="374.1" cy="58.3" r="1.12"/>
<circle cx="380.2" cy="28.2" r="1.12"/>
<circle cx="402.8" cy="50.4" r="1.12"/>
<circle cx="376.8" cy="32.1" r="1.12"/>
<circle cx="341.3" cy="28.8" r="1.12"/>
<circle cx="391.4" cy="31.2" r="1.12"/>
<circle cx="351.2" cy="42.2" r="1.12"/>
<circle cx="379.4" cy="46.7" r="1.12"/>
<circle cx="386.8" cy="55.5" r="1.12"/>
<circle cx="359.9" cy="50.8" r="1.12"/>
<circle cx="357.2" cy="47.6" r="1.12"/>
<circle cx="378.2" cy="42.7" r="1.12"/>
<circle cx="392.4" cy="39.8" r="1.12"/>
<circle cx="395.0" cy="49.6" r="1.12"/>
<circle cx="377.4" cy="33.8" r="1.12"/>
<circle cx="361.4" cy="34.2" r="1.12"/>
<circle cx="371.4" cy="39.7" r="1.12"/>
<circle cx="428.7" cy="47.0" r="1.12"/>
<circle cx="388.8" cy="30.5" r="1.12"/>
<circle cx="362.2" cy="36.5" r="1.12"/>
<circle cx="378.5" cy="28.6" r="1.12"/>
<circle cx="404.0" cy="33.8" r="1.12"/>
<circle cx="394.4" cy="14.3" r="1.12"/>
<circle cx="374.9" cy="43.1" r="1.12"/>
<circle cx="378.4" cy="46.6" r="1.12"/>
<circle cx="380.0" cy="41.8" r="1.12"/>
<circle cx="340.9" cy="32.2" r="1.12"/>
<circle cx="332.8" cy="46.9" r="1.12"/>
<circle cx="380.5" cy="37.9" r="1.12"/>
<circle cx="360.2" cy="33.6" r="1.12"/>
<circle cx="408.2" cy="59.0" r="1.12"/>
<circle cx="374.0" cy="54.2" r="1.12"/>
<circle cx="346.4" cy="18.7" r="1.12"/>
<circle cx="366.3" cy="30.4" r="1.12"/>
<circle cx="364.9" cy="42.1" r="1.12"/>
<circle cx="429.4" cy="32.7" r="1.12"/>
<circle cx="375.9" cy="43.0" r="1.12"/>
<circle cx="374.4" cy="50.2" r="1.12"/>
<circle cx="407.0" cy="26.3" r="1.12"/>
<circle cx="377.9" cy="37.1" r="1.12"/>
<circle cx="344.6" cy="78.2" r="1.12"/>
<circle cx="317.1" cy="71.2" r="1.12"/>
<circle cx="346.8" cy="93.7" r="1.12"/>
<circle cx="341.0" cy="70.7" r="1.12"/>
<circle cx="335.1" cy="85.2" r="1.12"/>
<circle cx="321.6" cy="83.8" r="1.12"/>
<circle cx="349.1" cy="96.9" r="1.12"/>
<circle cx="339.7" cy="96.6" r="1.12"/>
<circle cx="332.2" cy="92.6" r="1.12"/>
<circle cx="340.5" cy="97.0" r="1.12"/>
<circle cx="339.1" cy="90.7" r="1.12"/>
<circle cx="338.2" cy="86.2" r="1.12"/>
<circle cx="369.0" cy="96.6" r="1.12"/>
<circle cx="345.6" cy="112.6" r="1.12"/>
<circle cx="358.2" cy="78.0" r="1.12"/>
<circle cx="349.0" cy="99.5" r="1.12"/>
<circle cx="364.5" cy="103.8" r="1.12"/>
<circle cx="350.0" cy="81.4" r="1.12"/>
<circle cx="328.7" cy="94.4" r="1.12"/>
<circle cx="346.6" cy="82.8" r="1.12"/>
<circle cx="335.0" cy="88.4" r="1.12"/>
<circle cx="340.8" cy="95.0" r="1.12"/>
<circle cx="336.3" cy="80.9" r="1.12"/>
<circle cx="356.2" cy="106.4" r="1.12"/>
<circle cx="338.6" cy="101.2" r="1.12"/>
<circle cx="345.8" cy="97.9" r="1.12"/>
<circle cx="346.3" cy="85.1" r="1.12"/>
<circle cx="347.5" cy="101.1" r="1.12"/>
<circle cx="328.3" cy="109.7" r="1.12"/>
<circle cx="367.2" cy="108.4" r="1.12"/>
<circle cx="365.9" cy="98.7" r="1.12"/>
<circle cx="335.6" cy="86.6" r="1.12"/>
<circle cx="329.4" cy="93.0" r="1.12"/>
<circle cx="339.6" cy="98.0" r="1.12"/>
<circle cx="313.7" cy="112.8" r="1.12"/>
<circle cx="369.6" cy="91.8" r="1.12"/>
<circle cx="348.8" cy="96.3" r="1.12"/>
<circle cx="343.6" cy="90.1" r="1.12"/>
<circle cx="338.4" cy="84.6" r="1.12"/>
<circle cx="342.3" cy="91.8" r="1.12"/>
<circle cx="344.2" cy="84.3" r="1.12"/>
<circle cx="340.5" cy="92.4" r="1.12"/>
<circle cx="347.9" cy="82.4" r="1.12"/>
<circle cx="345.5" cy="100.8" r="1.12"/>
<circle cx="347.8" cy="88.7" r="1.12"/>
<circle cx="333.6" cy="89.9" r="1.12"/>
<circle cx="349.5" cy="106.0" r="1.12"/>
<circle cx="337.9" cy="86.2" r="1.12"/>
<circle cx="344.9" cy="93.8" r="1.12"/>
<circle cx="328.2" cy="85.4" r="1.12"/>
<circle cx="338.7" cy="98.0" r="1.12"/>
<circle cx="324.5" cy="82.8" r="1.12"/>
<circle cx="346.5" cy="81.0" r="1.12"/>
<circle cx="341.4" cy="95.2" r="1.12"/>
<circle cx="338.6" cy="82.8" r="1.12"/>
<circle cx="339.2" cy="89.0" r="1.12"/>
<circle cx="344.4" cy="84.5" r="1.12"/>
<circle cx="354.2" cy="76.9" r="1.12"/>
<circle cx="337.7" cy="92.1" r="1.12"/>
<circle cx="352.5" cy="86.5" r="1.12"/>
<circle cx="347.1" cy="86.9" r="1.12"/>
<circle cx="349.6" cy="107.6" r="1.12"/>
<circle cx="334.8" cy="96.0" r="1.12"/>
<circle cx="327.9" cy="100.8" r="1.12"/>
<circle cx="355.7" cy="92.3" r="1.12"/>
<circle cx="325.2" cy="95.6" r="1.12"/>
<circle cx="354.9" cy="101.8" r="1.12"/>
<circle cx="350.6" cy="75.5" r="1.12"/>
<circle cx="331.2" cy="104.8" r="1.12"/>
<circle cx="324.1" cy="102.2" r="1.12"/>
<circle cx="364.5" cy="98.9" r="1.12"/>
<circle cx="354.6" cy="89.0" r="1.12"/>
<circle cx="324.1" cy="91.1" r="1.12"/>
<circle cx="337.4" cy="91.6" r="1.12"/>
<circle cx="349.1" cy="90.7" r="1.12"/>
<circle cx="342.5" cy="95.8" r="1.12"/>
<circle cx="339.9" cy="108.6" r="1.12"/>
<circle cx="345.8" cy="92.8" r="1.12"/>
<circle cx="337.3" cy="86.4" r="1.12"/>
<circle cx="357.5" cy="93.4" r="1.12"/>
<circle cx="326.0" cy="86.9" r="1.12"/>
<circle cx="338.2" cy="88.0" r="1.12"/>
<circle cx="354.1" cy="81.5" r="1.12"/>
<circle cx="346.4" cy="93.3" r="1.12"/>
<circle cx="324.7" cy="92.4" r="1.12"/>
<circle cx="338.8" cy="96.5" r="1.12"/>
<circle cx="334.1" cy="94.7" r="1.12"/>
<circle cx="318.4" cy="82.2" r="1.12"/>
<circle cx="350.2" cy="101.4" r="1.12"/>
<circle cx="339.8" cy="86.6" r="1.12"/>
<circle cx="354.1" cy="73.2" r="1.12"/>
<circle cx="329.6" cy="98.0" r="1.12"/>
<circle cx="348.5" cy="82.7" r="1.12"/>
<circle cx="315.5" cy="105.1" r="1.12"/>
<circle cx="342.0" cy="83.9" r="1.12"/>
<circle cx="340.7" cy="100.1" r="1.12"/>
<circle cx="306.3" cy="102.0" r="1.12"/>
<circle cx="349.6" cy="73.3" r="1.12"/>
<circle cx="350.0" cy="76.0" r="1.12"/>
<circle cx="354.8" cy="95.6" r="1.12"/>
<circle cx="369.3" cy="86.5" r="1.12"/>
<circle cx="340.1" cy="101.4" r="1.12"/>
<circle cx="331.7" cy="85.7" r="1.12"/>
<circle cx="335.2" cy="91.3" r="1.12"/>
<circle cx="325.9" cy="96.4" r="1.12"/>
<circle cx="347.1" cy="92.6" r="1.12"/>
<circle cx="362.1" cy="89.1" r="1.12"/>
<circle cx="357.0" cy="87.1" r="1.12"/>
<circle cx="349.8" cy="74.6" r="1.12"/>
<circle cx="342.6" cy="90.4" r="1.12"/>
<circle cx="333.6" cy="86.5" r="1.12"/>
<circle cx="335.5" cy="85.5" r="1.12"/>
<circle cx="311.5" cy="86.6" r="1.12"/>
<circle cx="332.9" cy="87.3" r="1.12"/>
<circle cx="326.2" cy="90.8" r="1.12"/>
<circle cx="350.2" cy="89.7" r="1.12"/>
<circle cx="333.6" cy="104.2" r="1.12"/>
<circle cx="352.7" cy="100.3" r="1.12"/>
<circle cx="355.0" cy="89.1" r="1.12"/>
<circle cx="338.3" cy="102.0" r="1.12"/>
<circle cx="332.8" cy="90.9" r="1.12"/>
<circle cx="344.9" cy="95.4" r="1.12"/>
<circle cx="336.4" cy="100.9" r="1.12"/>
<circle cx="337.7" cy="98.5" r="1.12"/>
<circle cx="353.9" cy="97.9" r="1.12"/>
<circle cx="349.5" cy="81.6" r="1.12"/>
<circle cx="323.0" cy="86.4" r="1.12"/>
<circle cx="346.2" cy="105.5" r="1.12"/>
<circle cx="324.1" cy="94.8" r="1.12"/>
<circle cx="328.9" cy="85.4" r="1.12"/>
<circle cx="336.4" cy="98.2" r="1.12"/>
<circle cx="342.8" cy="102.6" r="1.12"/>
<circle cx="327.2" cy="100.0" r="1.12"/>
<circle cx="352.1" cy="92.6" r="1.12"/>
<circle cx="346.2" cy="86.9" r="1.12"/>
<circle cx="325.8" cy="88.4" r="1.12"/>
<circle cx="331.6" cy="118.0" r="1.12"/>
<circle cx="333.7" cy="106.9" r="1.12"/>
<circle cx="342.6" cy="94.8" r="1.12"/>
<circle cx="349.7" cy="85.0" r="1.12"/>
<circle cx="351.9" cy="95.4" r="1.12"/>
<circle cx="320.3" cy="97.4" r="1.12"/>
<circle cx="347.2" cy="96.1" r="1.12"/>
<circle cx="360.6" cy="88.3" r="1.12"/>
<circle cx="346.7" cy="98.7" r="1.12"/>
<circle cx="328.3" cy="102.8" r="1.12"/>
<circle cx="321.1" cy="80.3" r="1.12"/>
<circle cx="346.8" cy="82.2" r="1.12"/>
<circle cx="338.5" cy="77.2" r="1.12"/>
<circle cx="340.9" cy="81.8" r="1.12"/>
<circle cx="344.4" cy="78.2" r="1.12"/>
<circle cx="345.8" cy="89.6" r="1.12"/>
<circle cx="340.8" cy="91.4" r="1.12"/>
<circle cx="341.7" cy="80.1" r="1.12"/>
<circle cx="306.7" cy="92.3" r="1.12"/>
<circle cx="327.8" cy="87.9" r="1.12"/>
<circle cx="345.5" cy="74.1" r="1.12"/>
<circle cx="330.1" cy="86.5" r="1.12"/>
<circle cx="326.3" cy="94.9" r="1.12"/>
<circle cx="338.2" cy="84.6" r="1.12"/>
<circle cx="327.2" cy="99.3" r="1.12"/>
<circle cx="331.4" cy="97.3" r="1.12"/>
<circle cx="345.8" cy="75.0" r="1.12"/>
<circle cx="325.9" cy="92.0" r="1.12"/>
<circle cx="344.4" cy="99.0" r="1.12"/>
<circle cx="350.4" cy="101.3" r="1.12"/>
<circle cx="335.1" cy="90.1" r="1.12"/>
<circle cx="350.1" cy="88.2" r="1.12"/>
<circle cx="353.7" cy="77.7" r="1.12"/>
<circle cx="348.5" cy="90.4" r="1.12"/>
<circle cx="314.4" cy="100.8" r="1.12"/>
<circle cx="344.0" cy="92.2" r="1.12"/>
<circle cx="326.0" cy="87.8" r="1.12"/>
<circle cx="359.7" cy="84.6" r="1.12"/>
<circle cx="324.4" cy="90.8" r="1.12"/>
<circle cx="334.9" cy="83.8" r="1.12"/>
<circle cx="329.1" cy="101.4" r="1.12"/>
<circle cx="321.2" cy="109.6" r="1.12"/>
<circle cx="332.9" cy="82.2" r="1.12"/>
<circle cx="350.2" cy="97.1" r="1.12"/>
<circle cx="326.4" cy="98.7" r="1.12"/>
<circle cx="316.1" cy="83.7" r="1.12"/>
<circle cx="354.6" cy="89.7" r="1.12"/>
<circle cx="323.1" cy="96.6" r="1.12"/>
<circle cx="351.9" cy="91.8" r="1.12"/>
<circle cx="316.5" cy="88.9" r="1.12"/>
<circle cx="345.4" cy="98.9" r="1.12"/>
<circle cx="364.1" cy="89.7" r="1.12"/>
<circle cx="333.7" cy="91.7" r="1.12"/>
<circle cx="355.7" cy="83.5" r="1.12"/>
<circle cx="357.0" cy="67.3" r="1.12"/>
<circle cx="350.4" cy="85.9" r="1.12"/>
<circle cx="346.0" cy="98.2" r="1.12"/>
<circle cx="324.6" cy="91.2" r="1.12"/>
<circle cx="343.1" cy="97.3" r="1.12"/>
<circle cx="327.9" cy="83.1" r="1.12"/>
<circle cx="315.0" cy="114.9" r="1.12"/>
<circle cx="337.5" cy="90.0" r="1.12"/>
<circle cx="320.6" cy="100.4" r="1.12"/>
<circle cx="333.0" cy="104.9" r="1.12"/>
<circle cx="351.1" cy="92.2" r="1.12"/>
<circle cx="349.5" cy="82.0" r="1.12"/>
<circle cx="335.8" cy="86.8" r="1.12"/>
<circle cx="323.5" cy="92.2" r="1.12"/>
<circle cx="338.1" cy="104.9" r="1.12"/>
<circle cx="328.1" cy="87.8" r="1.12"/>
<circle cx="345.5" cy="95.6" r="1.12"/>
<circle cx="340.4" cy="87.7" r="1.12"/>
<circle cx="346.4" cy="95.2" r="1.12"/>
<circle cx="316.0" cy="89.6" r="1.12"/>
<circle cx="322.1" cy="81.4" r="1.12"/>
<circle cx="341.9" cy="92.5" r="1.12"/>
<circle cx="341.5" cy="84.1" r="1.12"/>
<circle cx="337.4" cy="83.8" r="1.12"/>
<circle cx="345.0" cy="98.2" r="1.12"/>
<circle cx="362.8" cy="103.4" r="1.12"/>
<circle cx="329.5" cy="87.9" r="1.12"/>
<circle cx="327.8" cy="94.8" r="1.12"/>
<circle cx="365.7" cy="98.4" r="1.12"/>
<circle cx="311.4" cy="80.7" r="1.12"/>
<circle cx="323.2" cy="96.6" r="1.12"/>
<circle cx="340.0" cy="94.7" r="1.12"/>
<circle cx="363.2" cy="84.6" r="1.12"/>
<circle cx="329.0" cy="109.7" r="1.12"/>
<circle cx="344.4" cy="85.0" r="1.12"/>
<circle cx="313.6" cy="78.3" r="1.12"/>
<circle cx="308.2" cy="92.6" r="1.12"/>
<circle cx="340.6" cy="100.9" r="1.12"/>
<circle cx="338.2" cy="85.8" r="1.12"/>
<circle cx="330.4" cy="109.1" r="1.12"/>
<circle cx="317.0" cy="93.6" r="1.12"/>
<circle cx="340.3" cy="97.6" r="1.12"/>
<circle cx="334.7" cy="96.5" r="1.12"/>
<circle cx="350.6" cy="90.7" r="1.12"/>
<circle cx="334.1" cy="90.3" r="1.12"/>
<circle cx="327.5" cy="90.1" r="1.12"/>
<circle cx="336.1" cy="93.9" r="1.12"/>
<circle cx="357.4" cy="103.8" r="1.12"/>
<circle cx="334.2" cy="97.4" r="1.12"/>
<circle cx="343.8" cy="98.9" r="1.12"/>
<circle cx="340.3" cy="94.4" r="1.12"/>
<circle cx="333.9" cy="84.9" r="1.12"/>
<circle cx="351.3" cy="103.7" r="1.12"/>
<circle cx="348.6" cy="95.9" r="1.12"/>
<circle cx="343.5" cy="87.9" r="1.12"/>
<circle cx="316.8" cy="98.0" r="1.12"/>
<circle cx="342.6" cy="87.0" r="1.12"/>
<circle cx="327.5" cy="103.5" r="1.12"/>
<circle cx="316.5" cy="107.9" r="1.12"/>
<circle cx="348.3" cy="113.3" r="1.12"/>
<circle cx="330.7" cy="91.8" r="1.12"/>
<circle cx="333.4" cy="93.4" r="1.12"/>
<circle cx="337.3" cy="85.3" r="1.12"/>
<circle cx="354.0" cy="84.9" r="1.12"/>
<circle cx="333.4" cy="97.0" r="1.12"/>
<circle cx="333.0" cy="88.1" r="1.12"/>
<circle cx="344.6" cy="88.7" r="1.12"/>
<circle cx="323.8" cy="91.1" r="1.12"/>
<circle cx="337.1" cy="107.3" r="1.12"/>
<circle cx="325.7" cy="100.7" r="1.12"/>
<circle cx="329.8" cy="88.8" r="1.12"/>
<circle cx="335.8" cy="94.4" r="1.12"/>
<circle cx="351.2" cy="107.7" r="1.12"/>
<circle cx="331.7" cy="104.0" r="1.12"/>
<circle cx="352.9" cy="99.3" r="1.12"/>
<circle cx="330.1" cy="100.1" r="1.12"/>
<circle cx="338.6" cy="95.2" r="1.12"/>
<circle cx="336.5" cy="98.0" r="1.12"/>
<circle cx="354.5" cy="102.2" r="1.12"/>
<circle cx="337.3" cy="101.0" r="1.12"/>
<circle cx="358.9" cy="83.6" r="1.12"/>
<circle cx="359.1" cy="80.0" r="1.12"/>
<circle cx="347.1" cy="97.3" r="1.12"/>
<circle cx="359.3" cy="94.5" r="1.12"/>
<circle cx="333.8" cy="84.8" r="1.12"/>
<circle cx="323.7" cy="98.9" r="1.12"/>
<circle cx="336.9" cy="85.5" r="1.12"/>
<circle cx="346.9" cy="85.1" r="1.12"/>
<circle cx="334.3" cy="87.9" r="1.12"/>
<circle cx="361.5" cy="105.2" r="1.12"/>
<circle cx="337.9" cy="77.9" r="1.12"/>
<circle cx="343.6" cy="92.6" r="1.12"/>
<circle cx="344.5" cy="97.1" r="1.12"/>
<circle cx="335.8" cy="100.3" r="1.12"/>
<circle cx="350.9" cy="93.9" r="1.12"/>
<circle cx="334.7" cy="87.7" r="1.12"/>
<circle cx="349.0" cy="82.1" r="1.12"/>
<circle cx="337.9" cy="85.3" r="1.12"/>
<circle cx="321.9" cy="97.4" r="1.12"/>
<circle cx="339.7" cy="92.3" r="1.12"/>
<circle cx="351.4" cy="78.6" r="1.12"/>
<circle cx="339.1" cy="94.6" r="1.12"/>
<circle cx="350.8" cy="82.2" r="1.12"/>
<circle cx="349.3" cy="94.0" r="1.12"/>
<circle cx="357.6" cy="102.2" r="1.12"/>
<circle cx="347.1" cy="111.3" r="1.12"/>
<circle cx="340.0" cy="88.2" r="1.12"/>
<circle cx="335.6" cy="83.5" r="1.12"/>
<circle cx="339.6" cy="75.1" r="1.12"/>
<circle cx="338.9" cy="95.8" r="1.12"/>
<circle cx="352.9" cy="88.9" r="1.12"/>
<circle cx="358.1" cy="86.1" r="1.12"/>
<circle cx="338.3" cy="75.1" r="1.12"/>
<circle cx="330.1" cy="84.9" r="1.12"/>
<circle cx="359.0" cy="96.7" r="1.12"/>
<circle cx="326.0" cy="96.7" r="1.12"/>
<circle cx="346.1" cy="89.9" r="1.12"/>
<circle cx="340.3" cy="89.3" r="1.12"/>
<circle cx="333.1" cy="76.4" r="1.12"/>
<circle cx="338.9" cy="103.3" r="1.12"/>
<circle cx="358.2" cy="89.6" r="1.12"/>
<circle cx="330.5" cy="90.1" r="1.12"/>
<circle cx="351.4" cy="95.1" r="1.12"/>
<circle cx="332.6" cy="95.2" r="1.12"/>
<circle cx="337.4" cy="96.5" r="1.12"/>
<circle cx="334.8" cy="79.1" r="1.12"/>
<circle cx="340.7" cy="98.7" r="1.12"/>
<circle cx="326.0" cy="91.1" r="1.12"/>
<circle cx="351.1" cy="88.7" r="1.12"/>
<circle cx="331.8" cy="109.8" r="1.12"/>
<circle cx="350.5" cy="101.0" r="1.12"/>
<circle cx="328.0" cy="106.3" r="1.12"/>
<circle cx="319.0" cy="87.5" r="1.12"/>
<circle cx="349.4" cy="103.7" r="1.12"/>
<circle cx="328.2" cy="86.2" r="1.12"/>
<circle cx="342.5" cy="75.1" r="1.12"/>
<circle cx="348.1" cy="96.9" r="1.12"/>
<circle cx="334.3" cy="96.7" r="1.12"/>
<circle cx="349.8" cy="94.7" r="1.12"/>
<circle cx="346.6" cy="105.2" r="1.12"/>
<circle cx="334.0" cy="93.4" r="1.12"/>
<circle cx="333.4" cy="101.0" r="1.12"/>
<circle cx="334.9" cy="96.1" r="1.12"/>
<circle cx="341.7" cy="92.6" r="1.12"/>
<circle cx="361.6" cy="91.3" r="1.12"/>
<circle cx="357.9" cy="99.2" r="1.12"/>
<circle cx="356.6" cy="90.6" r="1.12"/>
<circle cx="351.7" cy="98.6" r="1.12"/>
<circle cx="332.3" cy="94.3" r="1.12"/>
<circle cx="338.4" cy="91.7" r="1.12"/>
<circle cx="356.4" cy="85.7" r="1.12"/>
<circle cx="318.9" cy="76.9" r="1.12"/>
<circle cx="334.3" cy="86.4" r="1.12"/>
<circle cx="340.2" cy="96.9" r="1.12"/>
<circle cx="362.1" cy="94.7" r="1.12"/>
<circle cx="345.8" cy="85.6" r="1.12"/>
<circle cx="347.3" cy="103.8" r="1.12"/>
<circle cx="356.8" cy="75.0" r="1.12"/>
<circle cx="351.2" cy="105.7" r="1.12"/>
<circle cx="350.4" cy="79.0" r="1.12"/>
<circle cx="336.2" cy="97.1" r="1.12"/>
<circle cx="345.2" cy="85.0" r="1.12"/>
<circle cx="328.8" cy="100.4" r="1.12"/>
<circle cx="323.3" cy="104.4" r="1.12"/>
<circle cx="340.3" cy="94.6" r="1.12"/>
<circle cx="323.3" cy="86.8" r="1.12"/>
<circle cx="348.6" cy="79.3" r="1.12"/>
<circle cx="365.9" cy="79.8" r="1.12"/>
<circle cx="324.7" cy="92.4" r="1.12"/>
<circle cx="346.0" cy="98.3" r="1.12"/>
<circle cx="335.4" cy="90.2" r="1.12"/>
<circle cx="337.0" cy="87.0" r="1.12"/>
<circle cx="307.8" cy="100.3" r="1.12"/>
<circle cx="343.1" cy="93.4" r="1.12"/>
<circle cx="332.1" cy="94.2" r="1.12"/>
<circle cx="339.8" cy="91.3" r="1.12"/>
<circle cx="353.8" cy="77.1" r="1.12"/>
<circle cx="343.1" cy="82.8" r="1.12"/>
<circle cx="336.0" cy="105.0" r="1.12"/>
<circle cx="326.5" cy="91.1" r="1.12"/>
<circle cx="332.6" cy="100.2" r="1.12"/>
<circle cx="327.8" cy="77.5" r="1.12"/>
<circle cx="346.4" cy="88.9" r="1.12"/>
<circle cx="336.0" cy="101.3" r="1.12"/>
<circle cx="328.9" cy="88.8" r="1.12"/>
<circle cx="341.8" cy="95.6" r="1.12"/>
<circle cx="333.5" cy="100.9" r="1.12"/>
<circle cx="368.0" cy="88.5" r="1.12"/>
<circle cx="418.7" cy="57.6" r="1.12"/>
<circle cx="407.1" cy="84.7" r="1.12"/>
<circle cx="375.4" cy="84.8" r="1.12"/>
<circle cx="356.1" cy="70.4" r="1.12"/>
<circle cx="362.1" cy="109.9" r="1.12"/>
<circle cx="400.5" cy="84.6" r="1.12"/>
<circle cx="358.8" cy="79.2" r="1.12"/>
<circle cx="342.0" cy="117.7" r="1.12"/>
<circle cx="388.6" cy="91.8" r="1.12"/>
<circle cx="359.7" cy="74.3" r="1.12"/>
<circle cx="404.9" cy="102.0" r="1.12"/>
<circle cx="348.2" cy="105.2" r="1.12"/>
<circle cx="344.4" cy="99.9" r="1.12"/>
<circle cx="348.0" cy="83.6" r="1.12"/>
<circle cx="384.4" cy="96.6" r="1.12"/>
<circle cx="397.2" cy="77.1" r="1.12"/>
<circle cx="411.4" cy="110.7" r="1.12"/>
<circle cx="371.7" cy="97.1" r="1.12"/>
<circle cx="352.6" cy="87.7" r="1.12"/>
<circle cx="339.0" cy="91.4" r="1.12"/>
<circle cx="377.0" cy="110.6" r="1.12"/>
<circle cx="395.7" cy="102.5" r="1.12"/>
<circle cx="363.0" cy="86.5" r="1.12"/>
<circle cx="363.5" cy="93.4" r="1.12"/>
<circle cx="323.8" cy="101.8" r="1.12"/>
<circle cx="332.9" cy="82.1" r="1.12"/>
<circle cx="372.6" cy="82.1" r="1.12"/>
<circle cx="413.5" cy="88.5" r="1.12"/>
<circle cx="411.2" cy="108.0" r="1.12"/>
<circle cx="359.6" cy="96.2" r="1.12"/>
<circle cx="404.4" cy="84.9" r="1.12"/>
<circle cx="374.2" cy="81.4" r="1.12"/>
<circle cx="373.5" cy="84.6" r="1.12"/>
<circle cx="374.1" cy="105.4" r="1.12"/>
<circle cx="406.8" cy="92.0" r="1.12"/>
<circle cx="377.0" cy="103.2" r="1.12"/>
<circle cx="364.8" cy="73.7" r="1.12"/>
<circle cx="399.7" cy="75.6" r="1.12"/>
<circle cx="395.2" cy="75.2" r="1.12"/>
<circle cx="417.7" cy="74.0" r="1.12"/>
<circle cx="393.2" cy="113.0" r="1.12"/>
<circle cx="348.0" cy="112.8" r="1.12"/>
<circle cx="351.5" cy="62.9" r="1.12"/>
<circle cx="390.0" cy="100.8" r="1.12"/>
<circle cx="366.9" cy="51.2" r="1.12"/>
<circle cx="370.6" cy="85.3" r="1.12"/>
<circle cx="362.5" cy="85.6" r="1.12"/>
<circle cx="327.3" cy="81.3" r="1.12"/>
<circle cx="416.9" cy="113.8" r="1.12"/>
<circle cx="363.0" cy="79.1" r="1.12"/>
<circle cx="381.9" cy="106.3" r="1.12"/>
<circle cx="390.0" cy="72.0" r="1.12"/>
<circle cx="376.0" cy="92.2" r="1.12"/>
<circle cx="407.9" cy="108.4" r="1.12"/>
<circle cx="385.1" cy="108.7" r="1.12"/>
<circle cx="362.1" cy="113.6" r="1.12"/>
<circle cx="361.4" cy="96.1" r="1.12"/>
<circle cx="394.9" cy="76.0" r="1.12"/>
<circle cx="354.5" cy="63.0" r="1.12"/>
<circle cx="376.1" cy="89.2" r="1.12"/>
<circle cx="363.8" cy="97.7" r="1.12"/>
<circle cx="319.2" cy="89.6" r="1.12"/>
<circle cx="374.2" cy="85.9" r="1.12"/>
<circle cx="391.8" cy="116.9" r="1.12"/>
<circle cx="360.9" cy="75.6" r="1.12"/>
<circle cx="356.9" cy="91.4" r="1.12"/>
<circle cx="386.6" cy="76.8" r="1.12"/>
<circle cx="396.9" cy="74.3" r="1.12"/>
<circle cx="392.6" cy="96.6" r="1.12"/>
<circle cx="383.6" cy="123.1" r="1.12"/>
<circle cx="365.4" cy="87.5" r="1.12"/>
<circle cx="383.9" cy="103.3" r="1.12"/>
<circle cx="338.6" cy="94.2" r="1.12"/>
<circle cx="353.5" cy="99.7" r="1.12"/>
<circle cx="406.2" cy="90.8" r="1.12"/>
<circle cx="369.3" cy="92.8" r="1.12"/>
<circle cx="386.0" cy="92.5" r="1.12"/>
<circle cx="362.1" cy="78.8" r="1.12"/>
<circle cx="367.5" cy="108.6" r="1.12"/>
<circle cx="369.4" cy="110.7" r="1.12"/>
<circle cx="307.8" cy="82.9" r="1.12"/>
<circle cx="378.8" cy="89.8" r="1.12"/>
<circle cx="330.6" cy="79.8" r="1.12"/>
<circle cx="403.2" cy="70.2" r="1.12"/>
<circle cx="347.3" cy="73.1" r="1.12"/>
<circle cx="358.2" cy="99.9" r="1.12"/>
<circle cx="386.8" cy="58.8" r="1.12"/>
<circle cx="408.4" cy="80.9" r="1.12"/>
<circle cx="357.3" cy="115.6" r="1.12"/>
<circle cx="370.0" cy="71.0" r="1.12"/>
<circle cx="356.1" cy="78.8" r="1.12"/>
<circle cx="346.8" cy="84.9" r="1.12"/>
<circle cx="393.9" cy="95.4" r="1.12"/>
<circle cx="337.5" cy="132.8" r="1.12"/>
<circle cx="347.3" cy="91.8" r="1.12"/>
<circle cx="372.8" cy="101.7" r="1.12"/>
<circle cx="363.8" cy="97.0" r="1.12"/>
<circle cx="424.6" cy="91.5" r="1.12"/>
<circle cx="345.0" cy="95.0" r="1.12"/>
<circle cx="352.0" cy="84.3" r="1.12"/>
<circle cx="376.7" cy="95.2" r="1.12"/>
<circle cx="364.9" cy="103.0" r="1.12"/>
<circle cx="367.2" cy="70.0" r="1.12"/>
<circle cx="393.9" cy="84.4" r="1.12"/>
<circle cx="402.3" cy="79.9" r="1.12"/>
<circle cx="386.3" cy="94.8" r="1.12"/>
<circle cx="304.7" cy="67.1" r="1.12"/>
<circle cx="344.1" cy="111.6" r="1.12"/>
<circle cx="324.9" cy="104.0" r="1.12"/>
<circle cx="399.3" cy="97.6" r="1.12"/>
<circle cx="388.8" cy="82.4" r="1.12"/>
<circle cx="371.7" cy="93.5" r="1.12"/>
<circle cx="382.5" cy="100.9" r="1.12"/>
<circle cx="366.8" cy="79.2" r="1.12"/>
<circle cx="358.0" cy="96.3" r="1.12"/>
<circle cx="330.5" cy="70.7" r="1.12"/>
<circle cx="361.7" cy="81.5" r="1.12"/>
<circle cx="365.2" cy="49.1" r="1.12"/>
<circle cx="363.5" cy="86.1" r="1.12"/>
<circle cx="391.4" cy="59.6" r="1.12"/>
<circle cx="364.4" cy="97.3" r="1.12"/>
<circle cx="384.2" cy="108.4" r="1.12"/>
<circle cx="398.3" cy="73.9" r="1.12"/>
<circle cx="387.9" cy="84.9" r="1.12"/>
<circle cx="351.9" cy="113.6" r="1.12"/>
<circle cx="356.3" cy="76.9" r="1.12"/>
<circle cx="361.8" cy="76.9" r="1.12"/>
<circle cx="397.2" cy="95.8" r="1.12"/>
<circle cx="407.0" cy="96.3" r="1.12"/>
<circle cx="356.6" cy="106.1" r="1.12"/>
<circle cx="355.6" cy="82.9" r="1.12"/>
<circle cx="367.8" cy="90.6" r="1.12"/>
<circle cx="401.9" cy="80.7" r="1.12"/>
<circle cx="380.8" cy="89.6" r="1.12"/>
<circle cx="340.5" cy="73.1" r="1.12"/>
<circle cx="366.5" cy="96.2" r="1.12"/>
<circle cx="380.0" cy="97.4" r="1.12"/>
<circle cx="373.2" cy="83.1" r="1.12"/>
<circle cx="382.7" cy="74.6" r="1.12"/>
<circle cx="338.4" cy="84.9" r="1.12"/>
<circle cx="336.2" cy="82.1" r="1.12"/>
<circle cx="353.3" cy="81.5" r="1.12"/>
<circle cx="370.9" cy="77.7" r="1.12"/>
<circle cx="361.4" cy="63.6" r="1.12"/>
<circle cx="375.6" cy="76.4" r="1.12"/>
<circle cx="382.1" cy="46.4" r="1.12"/>
<circle cx="351.9" cy="93.7" r="1.12"/>
<circle cx="310.8" cy="84.4" r="1.12"/>
<circle cx="374.4" cy="91.6" r="1.12"/>
<circle cx="334.5" cy="93.5" r="1.12"/>
<circle cx="375.7" cy="75.0" r="1.12"/>
<circle cx="390.7" cy="89.2" r="1.12"/>
<circle cx="372.5" cy="83.1" r="1.12"/>
<circle cx="385.7" cy="91.5" r="1.12"/>
<circle cx="400.5" cy="97.0" r="1.12"/>
<circle cx="356.5" cy="86.6" r="1.12"/>
<circle cx="395.0" cy="84.4" r="1.12"/>
<circle cx="381.6" cy="98.1" r="1.12"/>
<circle cx="367.5" cy="54.0" r="1.12"/>
<circle cx="375.3" cy="93.3" r="1.12"/>
<circle cx="375.4" cy="78.3" r="1.12"/>
<circle cx="402.4" cy="87.9" r="1.12"/>
<circle cx="356.3" cy="78.9" r="1.12"/>
<circle cx="381.0" cy="73.1" r="1.12"/>
<circle cx="346.8" cy="120.9" r="1.12"/>
<circle cx="404.9" cy="106.3" r="1.12"/>
<circle cx="406.3" cy="99.2" r="1.12"/>
<circle cx="329.6" cy="108.5" r="1.12"/>
<circle cx="403.2" cy="97.6" r="1.12"/>
<circle cx="322.8" cy="109.2" r="1.12"/>
<circle cx="406.4" cy="82.4" r="1.12"/>
<circle cx="375.2" cy="102.0" r="1.12"/>
<circle cx="369.9" cy="107.0" r="1.12"/>
<circle cx="374.0" cy="100.7" r="1.12"/>
<circle cx="374.1" cy="67.1" r="1.12"/>
<circle cx="346.9" cy="139.1" r="1.12"/>
<circle cx="379.0" cy="110.3" r="1.12"/>
<circle cx="400.7" cy="116.6" r="1.12"/>
<circle cx="386.0" cy="80.8" r="1.12"/>
<circle cx="372.5" cy="60.2" r="1.12"/>
<circle cx="367.3" cy="104.1" r="1.12"/>
<circle cx="317.5" cy="93.1" r="1.12"/>
<circle cx="392.8" cy="110.6" r="1.12"/>
<circle cx="348.6" cy="79.9" r="1.12"/>
<circle cx="324.7" cy="74.2" r="1.12"/>
<circle cx="385.5" cy="122.1" r="1.12"/>
<circle cx="343.1" cy="111.4" r="1.12"/>
<circle cx="382.8" cy="82.3" r="1.12"/>
<circle cx="427.4" cy="50.8" r="1.12"/>
<circle cx="370.3" cy="93.4" r="1.12"/>
<circle cx="425.8" cy="117.9" r="1.12"/>
<circle cx="429.2" cy="92.1" r="1.12"/>
<circle cx="396.8" cy="111.2" r="1.12"/>
<circle cx="384.9" cy="95.6" r="1.12"/>
<circle cx="367.4" cy="83.7" r="1.12"/>
<circle cx="340.9" cy="120.3" r="1.12"/>
<circle cx="360.7" cy="57.7" r="1.12"/>
<circle cx="378.7" cy="89.5" r="1.12"/>
<circle cx="376.4" cy="118.2" r="1.12"/>
<circle cx="369.3" cy="85.9" r="1.12"/>
<circle cx="353.1" cy="89.7" r="1.12"/>
<circle cx="360.9" cy="93.2" r="1.12"/>
<circle cx="350.3" cy="120.0" r="1.12"/>
<circle cx="393.8" cy="102.7" r="1.12"/>
<circle cx="390.1" cy="102.8" r="1.12"/>
<circle cx="389.1" cy="112.0" r="1.12"/>
<circle cx="397.5" cy="111.0" r="1.12"/>
<circle cx="359.3" cy="90.0" r="1.12"/>
<circle cx="353.6" cy="104.9" r="1.12"/>
<circle cx="393.0" cy="82.7" r="1.12"/>
<circle cx="386.8" cy="130.9" r="1.12"/>
<circle cx="403.3" cy="72.6" r="1.12"/>
<circle cx="369.7" cy="99.9" r="1.12"/>
<circle cx="371.1" cy="96.0" r="1.12"/>
<circle cx="401.9" cy="95.1" r="1.12"/>
<circle cx="344.2" cy="101.1" r="1.12"/>
<circle cx="369.5" cy="91.8" r="1.12"/>
<circle cx="357.7" cy="68.5" r="1.12"/>
<circle cx="340.4" cy="84.5" r="1.12"/>
<circle cx="344.9" cy="47.7" r="1.12"/>
<circle cx="401.1" cy="71.9" r="1.12"/>
<circle cx="353.6" cy="98.3" r="1.12"/>
<circle cx="311.0" cy="110.9" r="1.12"/>
<circle cx="352.5" cy="100.3" r="1.12"/>
<circle cx="359.8" cy="94.8" r="1.12"/>
<circle cx="374.7" cy="90.0" r="1.12"/>
<circle cx="325.7" cy="67.1" r="1.12"/>
<circle cx="371.0" cy="112.0" r="1.12"/>
<circle cx="358.2" cy="98.3" r="1.12"/>
<circle cx="376.1" cy="97.5" r="1.12"/>
<circle cx="397.1" cy="66.6" r="1.12"/>
<circle cx="379.0" cy="87.2" r="1.12"/>
<circle cx="364.1" cy="76.7" r="1.12"/>
<circle cx="352.1" cy="74.0" r="1.12"/>
<circle cx="344.2" cy="129.1" r="1.12"/>
<circle cx="415.1" cy="90.2" r="1.12"/>
<circle cx="390.8" cy="74.8" r="1.12"/>
<circle cx="375.6" cy="112.4" r="1.12"/>
<circle cx="370.9" cy="74.4" r="1.12"/>
<circle cx="365.9" cy="74.4" r="1.12"/>
<circle cx="336.7" cy="86.4" r="1.12"/>
<circle cx="361.9" cy="77.3" r="1.12"/>
<circle cx="349.6" cy="75.5" r="1.12"/>
<circle cx="378.0" cy="111.7" r="1.12"/>
<circle cx="366.7" cy="124.9" r="1.12"/>
<circle cx="331.0" cy="94.3" r="1.12"/>
<circle cx="342.7" cy="87.5" r="1.12"/>
<circle cx="374.6" cy="98.7" r="1.12"/>
<circle cx="400.6" cy="81.3" r="1.12"/>
<circle cx="340.5" cy="87.1" r="1.12"/>
<circle cx="379.4" cy="79.1" r="1.12"/>
<circle cx="394.6" cy="116.3" r="1.12"/>
<circle cx="336.0" cy="95.7" r="1.12"/>
<circle cx="397.8" cy="60.0" r="1.12"/>
<circle cx="377.2" cy="86.5" r="1.12"/>
<circle cx="335.9" cy="110.5" r="1.12"/>
<circle cx="377.5" cy="82.5" r="1.12"/>
<circle cx="383.2" cy="100.0" r="1.12"/>
<circle cx="391.5" cy="99.0" r="1.12"/>
<circle cx="382.4" cy="71.7" r="1.12"/>
<circle cx="361.3" cy="92.0" r="1.12"/>
<circle cx="362.4" cy="73.6" r="1.12"/>
<circle cx="325.9" cy="93.9" r="1.12"/>
<circle cx="372.8" cy="80.9" r="1.12"/>
<circle cx="361.4" cy="76.1" r="1.12"/>
<circle cx="353.0" cy="88.5" r="1.12"/>
<circle cx="355.7" cy="100.6" r="1.12"/>
<circle cx="368.4" cy="92.1" r="1.12"/>
<circle cx="382.3" cy="109.8" r="1.12"/>
<circle cx="387.2" cy="93.6" r="1.12"/>
<circle cx="367.9" cy="77.4" r="1.12"/>
<circle cx="363.3" cy="100.6" r="1.12"/>
<circle cx="377.7" cy="84.0" r="1.12"/>
<circle cx="338.3" cy="66.1" r="1.12"/>
<circle cx="380.2" cy="106.0" r="1.12"/>
<circle cx="381.5" cy="68.6" r="1.12"/>
<circle cx="366.6" cy="93.5" r="1.12"/>
<circle cx="348.7" cy="95.4" r="1.12"/>
<circle cx="366.9" cy="77.0" r="1.12"/>
<circle cx="340.5" cy="102.6" r="1.12"/>
<circle cx="381.0" cy="76.2" r="1.12"/>
<circle cx="346.3" cy="103.9" r="1.12"/>
<circle cx="387.1" cy="85.3" r="1.12"/>
<circle cx="412.4" cy="85.5" r="1.12"/>
<circle cx="345.2" cy="107.0" r="1.12"/>
<circle cx="367.2" cy="95.4" r="1.12"/>
<circle cx="373.0" cy="74.4" r="1.12"/>
<circle cx="341.9" cy="87.0" r="1.12"/>
<circle cx="407.6" cy="74.4" r="1.12"/>
<circle cx="406.4" cy="93.4" r="1.12"/>
<circle cx="343.8" cy="94.2" r="1.12"/>
<circle cx="386.4" cy="76.0" r="1.12"/>
<circle cx="318.1" cy="95.6" r="1.12"/>
<circle cx="343.9" cy="96.9" r="1.12"/>
<circle cx="323.6" cy="87.8" r="1.12"/>
<circle cx="351.5" cy="66.9" r="1.12"/>
<circle cx="365.9" cy="92.7" r="1.12"/>
<circle cx="357.9" cy="71.6" r="1.12"/>
<circle cx="377.4" cy="62.8" r="1.12"/>
<circle cx="385.5" cy="97.6" r="1.12"/>
<circle cx="414.4" cy="103.7" r="1.12"/>
<circle cx="381.0" cy="94.1" r="1.12"/>
<circle cx="372.7" cy="69.4" r="1.12"/>
<circle cx="409.0" cy="98.2" r="1.12"/>
<circle cx="364.8" cy="72.2" r="1.12"/>
<circle cx="409.5" cy="98.3" r="1.12"/>
<circle cx="342.0" cy="100.4" r="1.12"/>
<circle cx="419.9" cy="89.6" r="1.12"/>
<circle cx="382.1" cy="83.5" r="1.12"/>
<circle cx="356.1" cy="106.7" r="1.12"/>
<circle cx="368.9" cy="102.3" r="1.12"/>
<circle cx="364.3" cy="101.3" r="1.12"/>
<circle cx="392.9" cy="74.2" r="1.12"/>
<circle cx="344.9" cy="88.8" r="1.12"/>
<circle cx="393.0" cy="94.3" r="1.12"/>
<circle cx="403.3" cy="68.6" r="1.12"/>
<circle cx="384.4" cy="80.3" r="1.12"/>
<circle cx="374.5" cy="95.0" r="1.12"/>
<circle cx="347.5" cy="86.4" r="1.12"/>
<circle cx="342.6" cy="94.1" r="1.12"/>
<circle cx="350.5" cy="82.3" r="1.12"/>
<circle cx="377.5" cy="79.9" r="1.12"/>
<circle cx="401.0" cy="80.1" r="1.12"/>
<circle cx="393.4" cy="94.4" r="1.12"/>
<circle cx="345.9" cy="86.6" r="1.12"/>
<circle cx="350.9" cy="84.4" r="1.12"/>
<circle cx="365.2" cy="118.2" r="1.12"/>
<circle cx="361.4" cy="114.3" r="1.12"/>
<circle cx="383.3" cy="69.7" r="1.12"/>
<circle cx="313.7" cy="100.5" r="1.12"/>
<circle cx="321.8" cy="101.1" r="1.12"/>
<circle cx="397.9" cy="96.1" r="1.12"/>
<circle cx="366.7" cy="86.1" r="1.12"/>
<circle cx="378.5" cy="85.3" r="1.12"/>
<circle cx="358.5" cy="84.3" r="1.12"/>
<circle cx="401.5" cy="80.4" r="1.12"/>
<circle cx="381.6" cy="72.2" r="1.12"/>
<circle cx="354.1" cy="68.7" r="1.12"/>
<circle cx="367.0" cy="100.6" r="1.12"/>
<circle cx="379.7" cy="82.4" r="1.12"/>
<circle cx="387.4" cy="84.6" r="1.12"/>
<circle cx="381.4" cy="94.2" r="1.12"/>
<circle cx="385.6" cy="51.6" r="1.12"/>
<circle cx="339.2" cy="102.0" r="1.12"/>
<circle cx="369.3" cy="124.7" r="1.12"/>
<circle cx="366.1" cy="81.5" r="1.12"/>
<circle cx="409.6" cy="98.6" r="1.12"/>
<circle cx="419.8" cy="97.9" r="1.12"/>
<circle cx="366.9" cy="101.2" r="1.12"/>
<circle cx="352.2" cy="83.1" r="1.12"/>
<circle cx="358.0" cy="86.6" r="1.12"/>
<circle cx="391.6" cy="82.6" r="1.12"/>
<circle cx="380.1" cy="82.3" r="1.12"/>
<circle cx="394.2" cy="47.4" r="1.12"/>
<circle cx="366.8" cy="92.6" r="1.12"/>
<circle cx="344.9" cy="105.7" r="1.12"/>
<circle cx="377.4" cy="109.8" r="1.12"/>
<circle cx="396.2" cy="99.9" r="1.12"/>
<circle cx="368.2" cy="73.2" r="1.12"/>
<circle cx="366.5" cy="82.9" r="1.12"/>
<circle cx="378.3" cy="82.8" r="1.12"/>
<circle cx="401.5" cy="82.7" r="1.12"/>
<circle cx="365.9" cy="104.3" r="1.12"/>
<circle cx="372.1" cy="71.3" r="1.12"/>
<circle cx="382.4" cy="87.0" r="1.12"/>
<circle cx="320.3" cy="93.1" r="1.12"/>
<circle cx="345.5" cy="78.5" r="1.12"/>
<circle cx="384.1" cy="94.6" r="1.12"/>
<circle cx="364.7" cy="123.5" r="1.12"/>
<circle cx="382.5" cy="80.5" r="1.12"/>
<circle cx="377.9" cy="88.1" r="1.12"/>
<circle cx="316.7" cy="65.7" r="1.12"/>
<circle cx="337.1" cy="121.9" r="1.12"/>
<circle cx="367.4" cy="85.7" r="1.12"/>
<circle cx="357.8" cy="105.2" r="1.12"/>
<circle cx="372.7" cy="116.3" r="1.12"/>
<circle cx="391.8" cy="115.4" r="1.12"/>
<circle cx="369.1" cy="95.8" r="1.12"/>
<circle cx="361.1" cy="87.4" r="1.12"/>
<circle cx="328.6" cy="81.0" r="1.12"/>
<circle cx="348.1" cy="79.9" r="1.12"/>
<circle cx="402.5" cy="94.0" r="1.12"/>
<circle cx="402.7" cy="103.2" r="1.12"/>
<circle cx="395.1" cy="105.5" r="1.12"/>
<circle cx="356.8" cy="102.4" r="1.12"/>
<circle cx="363.9" cy="81.8" r="1.12"/>
<circle cx="402.0" cy="123.4" r="1.12"/>
<circle cx="347.5" cy="116.8" r="1.12"/>
<circle cx="392.8" cy="76.9" r="1.12"/>
<circle cx="378.8" cy="95.7" r="1.12"/>
<circle cx="381.4" cy="84.5" r="1.12"/>
<circle cx="339.8" cy="90.5" r="1.12"/>
<circle cx="393.6" cy="102.1" r="1.12"/>
<circle cx="388.6" cy="107.0" r="1.12"/>
<circle cx="347.2" cy="89.3" r="1.12"/>
<circle cx="380.5" cy="105.4" r="1.12"/>
<circle cx="375.9" cy="98.0" r="1.12"/>
<circle cx="375.3" cy="122.3" r="1.12"/>
<circle cx="317.3" cy="89.6" r="1.12"/>
<circle cx="434.0" cy="93.6" r="1.12"/>
<circle cx="326.1" cy="92.1" r="1.12"/>
<circle cx="336.1" cy="79.5" r="1.12"/>
<circle cx="377.6" cy="116.4" r="1.12"/>
<circle cx="383.6" cy="100.3" r="1.12"/>
<circle cx="397.5" cy="93.1" r="1.12"/>
<circle cx="350.5" cy="88.5" r="1.12"/>
<circle cx="380.4" cy="85.7" r="1.12"/>
<circle cx="355.3" cy="84.5" r="1.12"/>
<circle cx="334.4" cy="74.2" r="1.12"/>
<circle cx="369.7" cy="84.4" r="1.12"/>
<circle cx="372.9" cy="111.6" r="1.12"/>
<circle cx="379.5" cy="89.5" r="1.12"/>
<circle cx="342.6" cy="73.4" r="1.12"/>
<circle cx="381.4" cy="76.6" r="1.12"/>
<circle cx="382.7" cy="73.5" r="1.12"/>
<circle cx="375.4" cy="88.9" r="1.12"/>
<circle cx="396.9" cy="84.0" r="1.12"/>
<circle cx="362.7" cy="93.8" r="1.12"/>
<circle cx="373.4" cy="116.0" r="1.12"/>
<circle cx="365.6" cy="81.7" r="1.12"/>
<circle cx="364.0" cy="97.3" r="1.12"/>
<circle cx="377.9" cy="100.7" r="1.12"/>
<circle cx="337.4" cy="128.1" r="1.12"/>
<circle cx="418.0" cy="89.5" r="1.12"/>
<circle cx="341.8" cy="92.4" r="1.12"/>
<circle cx="382.4" cy="55.6" r="1.12"/>
<circle cx="372.3" cy="67.2" r="1.12"/>
<circle cx="383.5" cy="111.3" r="1.12"/>
<circle cx="397.9" cy="66.8" r="1.12"/>
<circle cx="406.6" cy="104.0" r="1.12"/>
<circle cx="363.0" cy="97.7" r="1.12"/>
<circle cx="410.0" cy="84.9" r="1.12"/>
<circle cx="371.6" cy="81.4" r="1.12"/>
<circle cx="400.9" cy="56.8" r="1.12"/>
<circle cx="407.5" cy="75.1" r="1.12"/>
<circle cx="395.2" cy="65.0" r="1.12"/>
<circle cx="348.6" cy="80.8" r="1.12"/>
<circle cx="392.7" cy="65.0" r="1.12"/>
<circle cx="387.1" cy="80.2" r="1.12"/>
<circle cx="403.1" cy="85.2" r="1.12"/>
<circle cx="384.2" cy="87.4" r="1.12"/>
<circle cx="416.9" cy="84.5" r="1.12"/>
<circle cx="371.4" cy="120.5" r="1.12"/>
<circle cx="373.9" cy="100.6" r="1.12"/>
<circle cx="353.6" cy="93.1" r="1.12"/>
<circle cx="315.2" cy="91.6" r="1.12"/>
<circle cx="355.8" cy="66.9" r="1.12"/>
<circle cx="336.6" cy="107.6" r="1.12"/>
<circle cx="382.7" cy="66.7" r="1.12"/>
<circle cx="417.4" cy="79.3" r="1.12"/>
<circle cx="362.8" cy="93.8" r="1.12"/>
<circle cx="343.6" cy="65.1" r="1.12"/>
<circle cx="353.3" cy="108.2" r="1.12"/>
<circle cx="395.8" cy="65.7" r="1.12"/>
<circle cx="402.1" cy="90.5" r="1.12"/>
<circle cx="384.5" cy="90.8" r="1.12"/>
<circle cx="382.3" cy="74.6" r="1.12"/>
<circle cx="349.3" cy="79.2" r="1.12"/>
<circle cx="362.8" cy="99.5" r="1.12"/>
<circle cx="341.6" cy="114.5" r="1.12"/>
<circle cx="356.2" cy="80.9" r="1.12"/>
<circle cx="389.6" cy="96.7" r="1.12"/>
<circle cx="363.5" cy="73.5" r="1.12"/>
<circle cx="347.0" cy="65.4" r="1.12"/>
<circle cx="400.6" cy="106.7" r="1.12"/>
<circle cx="418.7" cy="97.7" r="1.12"/>
<circle cx="380.3" cy="101.7" r="1.12"/>
<circle cx="395.8" cy="86.0" r="1.12"/>
<circle cx="380.8" cy="123.2" r="1.12"/>
<circle cx="329.6" cy="68.4" r="1.12"/>
<circle cx="347.9" cy="101.6" r="1.12"/>
<circle cx="401.7" cy="84.8" r="1.12"/>
<circle cx="388.8" cy="89.3" r="1.12"/>
<circle cx="379.5" cy="81.7" r="1.12"/>
<circle cx="364.5" cy="108.0" r="1.12"/>
<circle cx="386.8" cy="125.2" r="1.12"/>
<circle cx="330.1" cy="112.1" r="1.12"/>
<circle cx="364.9" cy="115.5" r="1.12"/>
<circle cx="385.4" cy="114.0" r="1.12"/>
<circle cx="380.6" cy="100.7" r="1.12"/>
<circle cx="332.2" cy="120.9" r="1.12"/>
<circle cx="388.3" cy="100.7" r="1.12"/>
<circle cx="389.9" cy="113.1" r="1.12"/>
<circle cx="317.7" cy="114.9" r="1.12"/>
<circle cx="346.0" cy="117.0" r="1.12"/>
<circle cx="351.9" cy="102.3" r="1.12"/>
<circle cx="335.2" cy="106.3" r="1.12"/>
<circle cx="384.6" cy="102.8" r="1.12"/>
<circle cx="329.2" cy="124.5" r="1.12"/>
<circle cx="400.5" cy="113.3" r="1.12"/>
<circle cx="354.6" cy="98.7" r="1.12"/>
<circle cx="333.4" cy="112.3" r="1.12"/>
<circle cx="390.0" cy="99.8" r="1.12"/>
<circle cx="365.0" cy="105.9" r="1.12"/>
<circle cx="360.1" cy="111.9" r="1.12"/>
<circle cx="405.3" cy="103.1" r="1.12"/>
<circle cx="381.4" cy="116.4" r="1.12"/>
<circle cx="359.5" cy="106.9" r="1.12"/>
<circle cx="339.1" cy="116.3" r="1.12"/>
<circle cx="354.8" cy="103.0" r="1.12"/>
<circle cx="366.3" cy="101.4" r="1.12"/>
<circle cx="344.9" cy="105.7" r="1.12"/>
<circle cx="393.7" cy="106.4" r="1.12"/>
<circle cx="375.2" cy="96.7" r="1.12"/>
<circle cx="327.5" cy="122.0" r="1.12"/>
<circle cx="357.3" cy="96.1" r="1.12"/>
<circle cx="363.0" cy="112.7" r="1.12"/>
<circle cx="331.7" cy="101.2" r="1.12"/>
<circle cx="370.0" cy="100.9" r="1.12"/>
<circle cx="380.4" cy="115.4" r="1.12"/>
<circle cx="373.5" cy="104.7" r="1.12"/>
<circle cx="364.1" cy="103.1" r="1.12"/>
<circle cx="362.5" cy="110.5" r="1.12"/>
<circle cx="359.2" cy="115.5" r="1.12"/>
<circle cx="415.1" cy="103.8" r="1.12"/>
<circle cx="371.6" cy="114.4" r="1.12"/>
<circle cx="377.4" cy="106.2" r="1.12"/>
<circle cx="355.7" cy="115.8" r="1.12"/>
<circle cx="377.1" cy="111.9" r="1.12"/>
<circle cx="349.5" cy="112.9" r="1.12"/>
<circle cx="380.3" cy="106.6" r="1.12"/>
<circle cx="377.5" cy="124.8" r="1.12"/>
<circle cx="328.7" cy="112.7" r="1.12"/>
<circle cx="342.4" cy="97.5" r="1.12"/>
<circle cx="360.5" cy="112.2" r="1.12"/>
<circle cx="366.0" cy="99.0" r="1.12"/>
<circle cx="337.2" cy="103.7" r="1.12"/>
<circle cx="365.3" cy="101.6" r="1.12"/>
<circle cx="335.9" cy="121.6" r="1.12"/>
<circle cx="348.8" cy="106.8" r="1.12"/>
<circle cx="354.4" cy="103.5" r="1.12"/>
<circle cx="365.8" cy="105.7" r="1.12"/>
<circle cx="377.0" cy="98.8" r="1.12"/>
<circle cx="336.2" cy="123.1" r="1.12"/>
<circle cx="363.5" cy="113.9" r="1.12"/>
<circle cx="387.8" cy="112.3" r="1.12"/>
<circle cx="365.7" cy="96.0" r="1.12"/>
<circle cx="334.0" cy="115.6" r="1.12"/>
<circle cx="378.1" cy="112.4" r="1.12"/>
<circle cx="332.9" cy="91.5" r="1.12"/>
<circle cx="344.5" cy="98.8" r="1.12"/>
<circle cx="368.1" cy="100.1" r="1.12"/>
<circle cx="395.7" cy="103.2" r="1.12"/>
<circle cx="354.1" cy="114.7" r="1.12"/>
<circle cx="371.4" cy="101.0" r="1.12"/>
<circle cx="380.9" cy="122.9" r="1.12"/>
<circle cx="341.2" cy="106.1" r="1.12"/>
<circle cx="344.1" cy="92.9" r="1.12"/>
<circle cx="377.2" cy="113.4" r="1.12"/>
<circle cx="383.9" cy="111.3" r="1.12"/>
<circle cx="325.9" cy="107.8" r="1.12"/>
<circle cx="352.0" cy="98.9" r="1.12"/>
<circle cx="343.5" cy="113.9" r="1.12"/>
<circle cx="359.2" cy="123.3" r="1.12"/>
<circle cx="374.1" cy="93.2" r="1.12"/>
<circle cx="382.4" cy="117.7" r="1.12"/>
<circle cx="365.6" cy="98.6" r="1.12"/>
<circle cx="399.4" cy="97.8" r="1.12"/>
<circle cx="363.4" cy="93.2" r="1.12"/>
<circle cx="340.6" cy="94.8" r="1.12"/>
<circle cx="386.2" cy="117.2" r="1.12"/>
<circle cx="357.1" cy="97.4" r="1.12"/>
<circle cx="363.8" cy="110.9" r="1.12"/>
<circle cx="335.3" cy="99.0" r="1.12"/>
<circle cx="363.0" cy="113.5" r="1.12"/>
<circle cx="366.5" cy="111.5" r="1.12"/>
<circle cx="340.7" cy="88.6" r="1.12"/>
<circle cx="371.1" cy="100.8" r="1.12"/>
<circle cx="362.6" cy="105.1" r="1.12"/>
<circle cx="374.4" cy="102.0" r="1.12"/>
<circle cx="393.2" cy="108.2" r="1.12"/>
<circle cx="375.3" cy="112.9" r="1.12"/>
<circle cx="385.2" cy="111.2" r="1.12"/>
<circle cx="330.8" cy="103.1" r="1.12"/>
<circle cx="401.3" cy="111.7" r="1.12"/>
<circle cx="376.0" cy="111.7" r="1.12"/>
<circle cx="352.5" cy="102.7" r="1.12"/>
<circle cx="352.4" cy="117.1" r="1.12"/>
<circle cx="372.1" cy="121.9" r="1.12"/>
<circle cx="374.7" cy="122.8" r="1.12"/>
<circle cx="374.0" cy="98.7" r="1.12"/>
<circle cx="399.1" cy="110.6" r="1.12"/>
<circle cx="388.3" cy="109.7" r="1.12"/>
<circle cx="358.6" cy="109.3" r="1.12"/>
<circle cx="343.0" cy="98.6" r="1.12"/>
<circle cx="347.6" cy="103.9" r="1.12"/>
<circle cx="338.4" cy="107.2" r="1.12"/>
<circle cx="371.0" cy="123.9" r="1.12"/>
<circle cx="401.1" cy="107.6" r="1.12"/>
<circle cx="382.4" cy="106.3" r="1.12"/>
<circle cx="372.7" cy="107.7" r="1.12"/>
<circle cx="354.4" cy="108.6" r="1.12"/>
<circle cx="336.0" cy="111.5" r="1.12"/>
<circle cx="359.3" cy="99.5" r="1.12"/>
<circle cx="357.9" cy="112.4" r="1.12"/>
<circle cx="351.6" cy="111.7" r="1.12"/>
<circle cx="376.2" cy="120.3" r="1.12"/>
<circle cx="343.6" cy="107.1" r="1.12"/>
<circle cx="375.1" cy="119.8" r="1.12"/>
<circle cx="370.2" cy="113.9" r="1.12"/>
<circle cx="336.1" cy="103.4" r="1.12"/>
<circle cx="397.7" cy="105.8" r="1.12"/>
<circle cx="407.6" cy="102.3" r="1.12"/>
<circle cx="359.5" cy="95.4" r="1.12"/>
<circle cx="377.5" cy="110.1" r="1.12"/>
<circle cx="404.8" cy="109.3" r="1.12"/>
<circle cx="360.1" cy="96.9" r="1.12"/>
<circle cx="363.4" cy="115.5" r="1.12"/>
<circle cx="379.6" cy="117.7" r="1.12"/>
<circle cx="382.1" cy="107.6" r="1.12"/>
<circle cx="376.9" cy="109.4" r="1.12"/>
<circle cx="338.7" cy="121.5" r="1.12"/>
<circle cx="372.4" cy="99.7" r="1.12"/>
<circle cx="372.6" cy="110.3" r="1.12"/>
<circle cx="384.7" cy="119.4" r="1.12"/>
<circle cx="304.9" cy="112.4" r="1.12"/>
<circle cx="395.3" cy="100.5" r="1.12"/>
<circle cx="328.3" cy="110.2" r="1.12"/>
<circle cx="371.6" cy="110.8" r="1.12"/>
<circle cx="343.0" cy="104.3" r="1.12"/>
<circle cx="368.9" cy="113.9" r="1.12"/>
<circle cx="408.4" cy="110.3" r="1.12"/>
<circle cx="353.1" cy="89.3" r="1.12"/>
<circle cx="386.3" cy="107.0" r="1.12"/>
<circle cx="398.5" cy="38.3" r="1.12"/>
<circle cx="410.2" cy="28.7" r="1.12"/>
<circle cx="401.5" cy="51.4" r="1.12"/>
<circle cx="404.2" cy="65.5" r="1.12"/>
<circle cx="398.6" cy="51.1" r="1.12"/>
<circle cx="411.9" cy="31.6" r="1.12"/>
<circle cx="395.9" cy="50.8" r="1.12"/>
<circle cx="413.3" cy="40.5" r="1.12"/>
<circle cx="411.2" cy="54.6" r="1.12"/>
<circle cx="379.3" cy="32.4" r="1.12"/>
<circle cx="380.1" cy="51.7" r="1.12"/>
<circle cx="402.9" cy="58.6" r="1.12"/>
<circle cx="411.4" cy="43.4" r="1.12"/>
<circle cx="414.9" cy="59.8" r="1.12"/>
<circle cx="406.6" cy="55.7" r="1.12"/>
<circle cx="382.1" cy="54.3" r="1.12"/>
<circle cx="385.6" cy="35.8" r="1.12"/>
<circle cx="395.1" cy="51.7" r="1.12"/>
<circle cx="399.3" cy="46.1" r="1.12"/>
<circle cx="386.1" cy="52.2" r="1.12"/>
<circle cx="389.7" cy="33.2" r="1.12"/>
<circle cx="401.3" cy="67.3" r="1.12"/>
<circle cx="394.4" cy="37.3" r="1.12"/>
<circle cx="419.3" cy="70.4" r="1.12"/>
<circle cx="395.9" cy="47.5" r="1.12"/>
<circle cx="402.9" cy="85.2" r="1.12"/>
<circle cx="401.9" cy="61.9" r="1.12"/>
<circle cx="406.2" cy="28.3" r="1.12"/>
<circle cx="384.6" cy="35.3" r="1.12"/>
<circle cx="406.0" cy="51.3" r="1.12"/>
<circle cx="424.9" cy="46.8" r="1.12"/>
<circle cx="404.3" cy="50.9" r="1.12"/>
<circle cx="401.9" cy="77.7" r="1.12"/>
<circle cx="404.0" cy="67.6" r="1.12"/>
<circle cx="418.1" cy="42.7" r="1.12"/>
<circle cx="409.6" cy="45.4" r="1.12"/>
<circle cx="401.5" cy="51.9" r="1.12"/>
<circle cx="400.3" cy="44.4" r="1.12"/>
<circle cx="421.7" cy="46.8" r="1.12"/>
<circle cx="409.8" cy="70.1" r="1.12"/>
</g>
<g stroke="#a8a8a8" stroke-width="0.25">
<rect x="296.8" y="193.5" width="18.11" height="6.18" fill="#65BDE8"/>
<rect x="296.8" y="199.68" width="18.11" height="5.58" fill="#0D54A1"/>
<rect x="296.8" y="205.26" width="18.11" height="5.58" fill="#259DDA"/>
<rect x="296.8" y="210.84" width="18.11" height="5.58" fill="#1685CA"/>
<rect x="296.8" y="216.42" width="18.11" height="5.58" fill="#65BDE8"/>
<rect x="296.8" y="222" width="18.11" height="5.58" fill="#4AB2E4"/>
<rect x="296.8" y="227.58" width="18.11" height="5.58" fill="#1B8DCF"/>
<rect x="296.8" y="233.16" width="18.11" height="5.58" fill="#2095D5"/>
<rect x="296.8" y="238.74" width="18.11" height="5.58" fill="#1375BE"/>
<rect x="296.8" y="244.32" width="18.11" height="5.58" fill="#1375BE"/>
<rect x="296.8" y="249.9" width="18.11" height="5.58" fill="#126DB8"/>
<rect x="296.8" y="255.48" width="18.11" height="5.58" fill="#F26C4E"/>
<rect x="296.8" y="261.06" width="18.11" height="5.58" fill="#F37353"/>
<rect x="296.8" y="266.64" width="18.11" height="5.58" fill="#FAB08E"/>
<rect x="296.8" y="272.22" width="18.11" height="5.58" fill="#F7946F"/>
<rect x="296.8" y="277.8" width="18.11" height="5.58" fill="#F26C4E"/>
<rect x="296.8" y="283.38" width="18.11" height="5.58" fill="#D71028"/>
<rect x="296.8" y="288.96" width="18.11" height="5.58" fill="#ED543F"/>
<rect x="296.8" y="294.54" width="18.11" height="5.58" fill="#EA4A3A"/>
<rect x="296.8" y="300.12" width="18.11" height="5.58" fill="#EE5942"/>
<rect x="296.8" y="305.7" width="18.11" height="5.58" fill="#FDD0B9"/>
<rect x="296.8" y="311.28" width="18.11" height="5.58" fill="#F37353"/>
<rect x="296.8" y="316.86" width="18.11" height="5.58" fill="#E64034"/>
<rect x="296.8" y="322.44" width="18.11" height="5.58" fill="#F7946F"/>
<rect x="296.8" y="328.02" width="18.11" height="3.98" fill="#FAAA86"/>
<rect x="314.91" y="193.5" width="18.11" height="6.18" fill="#3EABE1"/>
<rect x="314.91" y="199.68" width="18.11" height="5.58" fill="#65BDE8"/>
<rect x="314.91" y="205.26" width="18.11" height="5.58" fill="#0A3F88"/>
<rect x="314.91" y="210.84" width="18.11" height="5.58" fill="#1375BE"/>
<rect x="314.91" y="216.42" width="18.11" height="5.58" fill="#1166B2"/>
<rect x="314.91" y="222" width="18.11" height="5.58" fill="#1B8DCF"/>
<rect x="314.91" y="227.58" width="18.11" height="5.58" fill="#126DB8"/>
<rect x="314.91" y="233.16" width="18.11" height="5.58" fill="#126DB8"/>
<rect x="314.91" y="238.74" width="18.11" height="5.58" fill="#1166B2"/>
<rect x="314.91" y="244.32" width="18.11" height="5.58" fill="#0F5FAC"/>
<rect x="314.91" y="249.9" width="18.11" height="5.58" fill="#0F5FAC"/>
<rect x="314.91" y="255.48" width="18.11" height="5.58" fill="#EE5942"/>
<rect x="314.91" y="261.06" width="18.11" height="5.58" fill="#CD0C27"/>
<rect x="314.91" y="266.64" width="18.11" height="5.58" fill="#CD0C27"/>
<rect x="314.91" y="272.22" width="18.11" height="5.58" fill="#F16549"/>
<rect x="314.91" y="277.8" width="18.11" height="5.58" fill="#FCD4C0"/>
<rect x="314.91" y="283.38" width="18.11" height="5.58" fill="#F05E44"/>
<rect x="314.91" y="288.96" width="18.11" height="5.58" fill="#ED543F"/>
<rect x="314.91" y="294.54" width="18.11" height="5.58" fill="#EA4A3A"/>
<rect x="314.91" y="300.12" width="18.11" height="5.58" fill="#F68B67"/>
<rect x="314.91" y="305.7" width="18.11" height="5.58" fill="#F05E44"/>
<rect x="314.91" y="311.28" width="18.11" height="5.58" fill="#EA4A3A"/>
<rect x="314.91" y="316.86" width="18.11" height="5.58" fill="#E64034"/>
<rect x="314.91" y="322.44" width="18.11" height="5.58" fill="#FAAA86"/>
<rect x="314.91" y="328.02" width="18.11" height="3.98" fill="#FAB08E"/>
<rect x="333.02" y="193.5" width="18.11" height="6.18" fill="#0F5FAC"/>
<rect x="333.02" y="199.68" width="18.11" height="5.58" fill="#3EABE1"/>
<rect x="333.02" y="205.26" width="18.11" height="5.58" fill="#93CFEE"/>
<rect x="333.02" y="210.84" width="18.11" height="5.58" fill="#65BDE8"/>
<rect x="333.02" y="216.42" width="18.11" height="5.58" fill="#F3E3DE"/>
<rect x="333.02" y="222" width="18.11" height="5.58" fill="#A3D6F0"/>
<rect x="333.02" y="227.58" width="18.11" height="5.58" fill="#93CFEE"/>
<rect x="333.02" y="233.16" width="18.11" height="5.58" fill="#259DDA"/>
<rect x="333.02" y="238.74" width="18.11" height="5.58" fill="#93CFEE"/>
<rect x="333.02" y="244.32" width="18.11" height="5.58" fill="#C0E2F3"/>
<rect x="333.02" y="249.9" width="18.11" height="5.58" fill="#EEE6E6"/>
<rect x="333.02" y="255.48" width="18.11" height="5.58" fill="#F9A783"/>
<rect x="333.02" y="261.06" width="18.11" height="5.58" fill="#FAAC89"/>
<rect x="333.02" y="266.64" width="18.11" height="5.58" fill="#FBBA9A"/>
<rect x="333.02" y="272.22" width="18.11" height="5.58" fill="#F37353"/>
<rect x="333.02" y="277.8" width="18.11" height="5.58" fill="#E3352F"/>
<rect x="333.02" y="283.38" width="18.11" height="5.58" fill="#F7946F"/>
<rect x="333.02" y="288.96" width="18.11" height="5.58" fill="#F7946F"/>
<rect x="333.02" y="294.54" width="18.11" height="5.58" fill="#FCD4C0"/>
<rect x="333.02" y="300.12" width="18.11" height="5.58" fill="#FCD4C0"/>
<rect x="333.02" y="305.7" width="18.11" height="5.58" fill="#BF0724"/>
<rect x="333.02" y="311.28" width="18.11" height="5.58" fill="#F7946F"/>
<rect x="333.02" y="316.86" width="18.11" height="5.58" fill="#FDD0B9"/>
<rect x="333.02" y="322.44" width="18.11" height="5.58" fill="#F7946F"/>
<rect x="333.02" y="328.02" width="18.11" height="3.98" fill="#E53A32"/>
<rect x="351.13" y="193.5" width="18.11" height="6.18" fill="#A3D6F0"/>
<rect x="351.13" y="199.68" width="18.11" height="5.58" fill="#C0E2F3"/>
<rect x="351.13" y="205.26" width="18.11" height="5.58" fill="#CFE8F5"/>
<rect x="351.13" y="210.84" width="18.11" height="5.58" fill="#CFE8F5"/>
<rect x="351.13" y="216.42" width="18.11" height="5.58" fill="#1375BE"/>
<rect x="351.13" y="222" width="18.11" height="5.58" fill="#1B8DCF"/>
<rect x="351.13" y="227.58" width="18.11" height="5.58" fill="#259DDA"/>
<rect x="351.13" y="233.16" width="18.11" height="5.58" fill="#93CFEE"/>
<rect x="351.13" y="238.74" width="18.11" height="5.58" fill="#A3D6F0"/>
<rect x="351.13" y="244.32" width="18.11" height="5.58" fill="#82C9EC"/>
<rect x="351.13" y="249.9" width="18.11" height="5.58" fill="#93CFEE"/>
<rect x="351.13" y="255.48" width="18.11" height="5.58" fill="#F16549"/>
<rect x="351.13" y="261.06" width="18.11" height="5.58" fill="#F7946F"/>
<rect x="351.13" y="266.64" width="18.11" height="5.58" fill="#E64034"/>
<rect x="351.13" y="272.22" width="18.11" height="5.58" fill="#EC4F3C"/>
<rect x="351.13" y="277.8" width="18.11" height="5.58" fill="#EA4A3A"/>
<rect x="351.13" y="283.38" width="18.11" height="5.58" fill="#FCCAB0"/>
<rect x="351.13" y="288.96" width="18.11" height="5.58" fill="#FAB08E"/>
<rect x="351.13" y="294.54" width="18.11" height="5.58" fill="#EE5942"/>
<rect x="351.13" y="300.12" width="18.11" height="5.58" fill="#C80A26"/>
<rect x="351.13" y="305.7" width="18.11" height="5.58" fill="#F68B67"/>
<rect x="351.13" y="311.28" width="18.11" height="5.58" fill="#F37353"/>
<rect x="351.13" y="316.86" width="18.11" height="5.58" fill="#F68B67"/>
<rect x="351.13" y="322.44" width="18.11" height="5.58" fill="#C40925"/>
<rect x="351.13" y="328.02" width="18.11" height="3.98" fill="#F26C4E"/>
<rect x="369.24" y="193.5" width="18.11" height="6.18" fill="#FDD0B9"/>
<rect x="369.24" y="199.68" width="18.11" height="5.58" fill="#FDD0B9"/>
<rect x="369.24" y="205.26" width="18.11" height="5.58" fill="#F89C76"/>
<rect x="369.24" y="210.84" width="18.11" height="5.58" fill="#F6E2DA"/>
<rect x="369.24" y="216.42" width="18.11" height="5.58" fill="#E3352F"/>
<rect x="369.24" y="222" width="18.11" height="5.58" fill="#B60523"/>
<rect x="369.24" y="227.58" width="18.11" height="5.58" fill="#E3352F"/>
<rect x="369.24" y="233.16" width="18.11" height="5.58" fill="#E3352F"/>
<rect x="369.24" y="238.74" width="18.11" height="5.58" fill="#E3352F"/>
<rect x="369.24" y="244.32" width="18.11" height="5.58" fill="#E3352F"/>
<rect x="369.24" y="249.9" width="18.11" height="5.58" fill="#E64034"/>
<rect x="369.24" y="255.48" width="18.11" height="5.58" fill="#0A3472"/>
<rect x="369.24" y="261.06" width="18.11" height="5.58" fill="#0A3A7D"/>
<rect x="369.24" y="266.64" width="18.11" height="5.58" fill="#1581C7"/>
<rect x="369.24" y="272.22" width="18.11" height="5.58" fill="#0A3A7D"/>
<rect x="369.24" y="277.8" width="18.11" height="5.58" fill="#126DB8"/>
<rect x="369.24" y="283.38" width="18.11" height="5.58" fill="#126DB8"/>
<rect x="369.24" y="288.96" width="18.11" height="5.58" fill="#1375BE"/>
<rect x="369.24" y="294.54" width="18.11" height="5.58" fill="#4AB2E4"/>
<rect x="369.24" y="300.12" width="18.11" height="5.58" fill="#51B5E5"/>
<rect x="369.24" y="305.7" width="18.11" height="5.58" fill="#5EBAE7"/>
<rect x="369.24" y="311.28" width="18.11" height="5.58" fill="#FCD4C0"/>
<rect x="369.24" y="316.86" width="18.11" height="5.58" fill="#EEE6E6"/>
<rect x="369.24" y="322.44" width="18.11" height="5.58" fill="#A3D6F0"/>
<rect x="369.24" y="328.02" width="18.11" height="3.98" fill="#FDD0B9"/>
<rect x="387.35" y="193.5" width="18.11" height="6.18" fill="#F89C76"/>
<rect x="387.35" y="199.68" width="18.11" height="5.58" fill="#DC1229"/>
<rect x="387.35" y="205.26" width="18.11" height="5.58" fill="#E3352F"/>
<rect x="387.35" y="210.84" width="18.11" height="5.58" fill="#E3352F"/>
<rect x="387.35" y="216.42" width="18.11" height="5.58" fill="#FBB796"/>
<rect x="387.35" y="222" width="18.11" height="5.58" fill="#FAD8C8"/>
<rect x="387.35" y="227.58" width="18.11" height="5.58" fill="#F05E44"/>
<rect x="387.35" y="233.16" width="18.11" height="5.58" fill="#ED543F"/>
<rect x="387.35" y="238.74" width="18.11" height="5.58" fill="#FAAA86"/>
<rect x="387.35" y="244.32" width="18.11" height="5.58" fill="#F9A37E"/>
<rect x="387.35" y="249.9" width="18.11" height="5.58" fill="#F89C76"/>
<rect x="387.35" y="255.48" width="18.11" height="5.58" fill="#2BA0DC"/>
<rect x="387.35" y="261.06" width="18.11" height="5.58" fill="#3EABE1"/>
<rect x="387.35" y="266.64" width="18.11" height="5.58" fill="#3EABE1"/>
<rect x="387.35" y="272.22" width="18.11" height="5.58" fill="#9BD3EF"/>
<rect x="387.35" y="277.8" width="18.11" height="5.58" fill="#3EABE1"/>
<rect x="387.35" y="283.38" width="18.11" height="5.58" fill="#1375BE"/>
<rect x="387.35" y="288.96" width="18.11" height="5.58" fill="#1375BE"/>
<rect x="387.35" y="294.54" width="18.11" height="5.58" fill="#0F5FAC"/>
<rect x="387.35" y="300.12" width="18.11" height="5.58" fill="#0D54A1"/>
<rect x="387.35" y="305.7" width="18.11" height="5.58" fill="#1371BB"/>
<rect x="387.35" y="311.28" width="18.11" height="5.58" fill="#1371BB"/>
<rect x="387.35" y="316.86" width="18.11" height="5.58" fill="#0D54A1"/>
<rect x="387.35" y="322.44" width="18.11" height="5.58" fill="#44AEE2"/>
<rect x="387.35" y="328.02" width="18.11" height="3.98" fill="#2299D7"/>
<rect x="405.46" y="193.5" width="18.11" height="6.18" fill="#AE0322"/>
<rect x="405.46" y="199.68" width="18.11" height="5.58" fill="#ED543F"/>
<rect x="405.46" y="205.26" width="18.11" height="5.58" fill="#FCC4A8"/>
<rect x="405.46" y="210.84" width="18.11" height="5.58" fill="#F68B67"/>
<rect x="405.46" y="216.42" width="18.11" height="5.58" fill="#EA4A3A"/>
<rect x="405.46" y="222" width="18.11" height="5.58" fill="#E3352F"/>
<rect x="405.46" y="227.58" width="18.11" height="5.58" fill="#E84537"/>
<rect x="405.46" y="233.16" width="18.11" height="5.58" fill="#F58260"/>
<rect x="405.46" y="238.74" width="18.11" height="5.58" fill="#F58260"/>
<rect x="405.46" y="244.32" width="18.11" height="5.58" fill="#F05E44"/>
<rect x="405.46" y="249.9" width="18.11" height="5.58" fill="#F37353"/>
<rect x="405.46" y="255.48" width="18.11" height="5.58" fill="#C8E5F4"/>
<rect x="405.46" y="261.06" width="18.11" height="5.58" fill="#6BBFE9"/>
<rect x="405.46" y="266.64" width="18.11" height="5.58" fill="#1685CA"/>
<rect x="405.46" y="272.22" width="18.11" height="5.58" fill="#3EABE1"/>
<rect x="405.46" y="277.8" width="18.11" height="5.58" fill="#2299D7"/>
<rect x="405.46" y="283.38" width="18.11" height="5.58" fill="#93CFEE"/>
<rect x="405.46" y="288.96" width="18.11" height="5.58" fill="#157DC4"/>
<rect x="405.46" y="294.54" width="18.11" height="5.58" fill="#8FCEEE"/>
<rect x="405.46" y="300.12" width="18.11" height="5.58" fill="#9BD3EF"/>
<rect x="405.46" y="305.7" width="18.11" height="5.58" fill="#9BD3EF"/>
<rect x="405.46" y="311.28" width="18.11" height="5.58" fill="#1E91D2"/>
<rect x="405.46" y="316.86" width="18.11" height="5.58" fill="#93CFEE"/>
<rect x="405.46" y="322.44" width="18.11" height="5.58" fill="#1375BE"/>
<rect x="405.46" y="328.02" width="18.11" height="3.98" fill="#1375BE"/>
<rect x="423.57" y="193.5" width="18.11" height="6.18" fill="#F05E44"/>
<rect x="423.57" y="199.68" width="18.11" height="5.58" fill="#F68B67"/>
<rect x="423.57" y="205.26" width="18.11" height="5.58" fill="#E64034"/>
<rect x="423.57" y="210.84" width="18.11" height="5.58" fill="#E3352F"/>
<rect x="423.57" y="216.42" width="18.11" height="5.58" fill="#F68B67"/>
<rect x="423.57" y="222" width="18.11" height="5.58" fill="#FCC4A8"/>
<rect x="423.57" y="227.58" width="18.11" height="5.58" fill="#FAB08E"/>
<rect x="423.57" y="233.16" width="18.11" height="5.58" fill="#FBB796"/>
<rect x="423.57" y="238.74" width="18.11" height="5.58" fill="#E64034"/>
<rect x="423.57" y="244.32" width="18.11" height="5.58" fill="#F37353"/>
<rect x="423.57" y="249.9" width="18.11" height="5.58" fill="#F7946F"/>
<rect x="423.57" y="255.48" width="18.11" height="5.58" fill="#A3D6F0"/>
<rect x="423.57" y="261.06" width="18.11" height="5.58" fill="#CFE8F5"/>
<rect x="423.57" y="266.64" width="18.11" height="5.58" fill="#A3D6F0"/>
<rect x="423.57" y="272.22" width="18.11" height="5.58" fill="#A0D5F0"/>
<rect x="423.57" y="277.8" width="18.11" height="5.58" fill="#B9DFF2"/>
<rect x="423.57" y="283.38" width="18.11" height="5.58" fill="#B9DFF2"/>
<rect x="423.57" y="288.96" width="18.11" height="5.58" fill="#FCD4C0"/>
<rect x="423.57" y="294.54" width="18.11" height="5.58" fill="#65BDE8"/>
<rect x="423.57" y="300.12" width="18.11" height="5.58" fill="#82C9EC"/>
<rect x="423.57" y="305.7" width="18.11" height="5.58" fill="#2095D5"/>
<rect x="423.57" y="311.28" width="18.11" height="5.58" fill="#157DC4"/>
<rect x="423.57" y="316.86" width="18.11" height="5.58" fill="#1685CA"/>
<rect x="423.57" y="322.44" width="18.11" height="5.58" fill="#1375BE"/>
<rect x="423.57" y="328.02" width="18.11" height="3.98" fill="#0F5BA9"/>
</g>
<rect x="296.8" y="190.4" width="72.5" height="2.4" fill="#1EB04A"/>
<rect x="369.3" y="190.4" width="72.5" height="2.4" fill="#F2063A"/>
<path d="M305.86 190.4V188.3H323.97V190.4 M342.07 190.4V187.7H360.19V190.4 M314.91 188.3V186.3H351.13V187.7 M414.51 190.4V188.2H432.62V190.4 M396.4 190.4V187.5H423.57V188.2 M378.3 190.4V186.4H409.99V187.5 M333.02 186.3V171.6H394.14V186.4" fill="none" stroke="#484848" stroke-width="0.55"/>
<path d="M294.7 216.1H275.3V291.8H293.8" fill="none" stroke="#484848" stroke-width="0.55"/>
<path d="M296 196.89H296.8 M296 202.47H296.8 M296 208.05H296.8 M296 213.63H296.8 M296 219.21H296.8 M296 224.79H296.8 M296 230.37H296.8 M296 235.95H296.8 M296 241.53H296.8 M296 247.11H296.8 M296 252.69H296.8 M296 258.27H296.8 M296 263.85H296.8 M296 269.43H296.8 M296 275.01H296.8 M296 280.59H296.8 M296 286.17H296.8 M296 291.75H296.8 M296 297.33H296.8 M296 302.91H296.8 M296 308.49H296.8 M296 314.07H296.8 M296 319.65H296.8 M296 325.23H296.8 M296 330.81H296.8 M295.6 196.89V213.63 M295.9 219.21V235.95 M295.7 241.53V252.69 M295.2 205.26V227.58 M294.7 216.42V247.11 M295.8 258.27V275.01 M295.5 280.59V302.91 M295.9 308.49V330.81 M294.6 266.64V291.75 M293.8 280.59V319.65" fill="none" stroke="#555" stroke-width="0.45"/>
<text x="443" y="193.1" font-size="3.6" font-weight="bold" fill="#333">class</text>
<text x="443" y="198.89" font-size="3.55" fill="#444">309.1726@5.73</text>
<text x="443" y="204.47" font-size="3.55" fill="#444">315.2520@9.18</text>
<text x="443" y="210.05" font-size="3.55" fill="#444">463.0607@8.25</text>
<text x="443" y="215.63" font-size="3.55" fill="#444">464.0767@4.15</text>
<text x="443" y="221.21" font-size="3.55" fill="#444">117.9281@8.78</text>
<text x="443" y="226.79" font-size="3.55" fill="#444">354.2019@8.89</text>
<text x="443" y="232.37" font-size="3.55" fill="#444">329.1818@8.94</text>
<text x="443" y="237.95" font-size="3.55" fill="#444">61.2971@8.83</text>
<text x="443" y="243.53" font-size="3.55" fill="#444">288.2288@8.28</text>
<text x="443" y="249.11" font-size="3.55" fill="#444">118.9279@8.85</text>
<text x="443" y="254.69" font-size="3.55" fill="#444">135.0636@8.97</text>
<text x="443" y="260.27" font-size="3.55" fill="#444">475.3403@8.95</text>
<text x="443" y="265.85" font-size="3.55" fill="#444">135.0444@2.47</text>
<text x="443" y="271.43" font-size="3.55" fill="#444">329.2320@7.53</text>
<text x="443" y="277.01" font-size="3.55" fill="#444">330.2352@8.38</text>
<text x="443" y="282.59" font-size="3.55" fill="#444">347.2424@8.84</text>
<text x="443" y="288.17" font-size="3.55" fill="#444">550.0507@5.65</text>
<text x="443" y="293.75" font-size="3.55" fill="#444">354.2680@8.65</text>
<text x="443" y="299.33" font-size="3.55" fill="#444">118.0405@8.18</text>
<text x="443" y="304.91" font-size="3.55" fill="#444">119.0243@8.85</text>
<text x="443" y="310.49" font-size="3.55" fill="#444">167.9277@8.39</text>
<text x="443" y="316.07" font-size="3.55" fill="#444">106.0405@5.73</text>
<text x="443" y="321.65" font-size="3.55" fill="#444">132.0506@8.6</text>
<text x="443" y="327.23" font-size="3.55" fill="#444">93.0086@8.88</text>
<text x="443" y="332.81" font-size="3.55" fill="#444">599.2843@8.76</text>
<defs><linearGradient id="cb" x1="0" y1="0" x2="0" y2="1"><stop offset="0" stop-color="#67001F"/><stop offset="0.12" stop-color="#B2182B"/><stop offset="0.25" stop-color="#D6604D"/><stop offset="0.37" stop-color="#F4A582"/><stop offset="0.45" stop-color="#FDDBC7"/><stop offset="0.5" stop-color="#F7F7F7"/><stop offset="0.56" stop-color="#D1E5F0"/><stop offset="0.64" stop-color="#92C5DE"/><stop offset="0.76" stop-color="#4393C3"/><stop offset="0.88" stop-color="#2166AC"/><stop offset="1" stop-color="#053061"/></linearGradient></defs>
<rect x="470.5" y="190.1" width="3.9" height="51.1" fill="url(#cb)"/>
<text x="476.4" y="196" font-size="3.6" fill="#333">1.5</text>
<text x="476.4" y="202.8" font-size="3.6" fill="#333">1</text>
<text x="476.4" y="210.2" font-size="3.6" fill="#333">0.5</text>
<text x="476.4" y="217.5" font-size="3.6" fill="#333">0</text>
<text x="476.4" y="224.6" font-size="3.6" fill="#333">-0.5</text>
<text x="476.4" y="232" font-size="3.6" fill="#333">-1</text>
<text x="476.4" y="239.1" font-size="3.6" fill="#333">-1.5</text>
<text x="485.7" y="193.2" font-size="5.6" font-weight="bold" fill="#111" stroke="#111" stroke-width="0.15" font-family="Liberation Serif, serif" style="font-family:'Liberation Serif',serif">class</text>
<rect x="486.1" y="195.3" width="10.8" height="5.2" fill="#EE1111" stroke="#888" stroke-width="0.3"/>
<rect x="486.1" y="200.6" width="10.8" height="5.8" fill="#3DAA3D" stroke="#888" stroke-width="0.3"/>
<text x="497.6" y="199.8" font-size="5.2" font-weight="bold" font-style="italic" fill="#111" stroke="#111" stroke-width="0.18">D. Dentatus red</text>
<text x="497.2" y="204.9" font-size="5.3" font-weight="bold" font-style="italic" fill="#111" stroke="#111" stroke-width="0.18">D. Dentatus white</text>
<text x="306.9" y="339.3" font-size="6.4" font-weight="bold" fill="#111" text-anchor="middle">white</text>
<text x="306.9" y="347.4" font-size="6.4" font-weight="bold" fill="#111" text-anchor="middle">3</text>
<text x="326" y="338.5" font-size="6.4" font-weight="bold" fill="#111" text-anchor="middle">white</text>
<text x="326" y="346.6" font-size="6.4" font-weight="bold" fill="#111" text-anchor="middle">4</text>
<text x="344" y="338.5" font-size="6.4" font-weight="bold" fill="#111" text-anchor="middle">white</text>
<text x="344" y="346.6" font-size="6.4" font-weight="bold" fill="#111" text-anchor="middle">1</text>
<text x="364.9" y="338.8" font-size="6.4" font-weight="bold" fill="#111" text-anchor="middle">white</text>
<text x="364.9" y="346.9" font-size="6.4" font-weight="bold" fill="#111" text-anchor="middle">3</text>
<text x="381.5" y="339.4" font-size="6.4" font-weight="bold" fill="#111" text-anchor="middle">red</text>
<text x="381.5" y="347.5" font-size="6.4" font-weight="bold" fill="#111" text-anchor="middle">1</text>
<text x="397.5" y="339.4" font-size="6.4" font-weight="bold" fill="#111" text-anchor="middle">red</text>
<text x="397.5" y="347.5" font-size="6.4" font-weight="bold" fill="#111" text-anchor="middle">4</text>
<text x="416" y="338.2" font-size="6.4" font-weight="bold" fill="#111" text-anchor="middle">red</text>
<text x="416" y="346.3" font-size="6.4" font-weight="bold" fill="#111" text-anchor="middle">2</text>
<text x="433.5" y="338.2" font-size="6.4" font-weight="bold" fill="#111" text-anchor="middle">red</text>
<text x="433.5" y="346.3" font-size="6.4" font-weight="bold" fill="#111" text-anchor="middle">3</text>
</svg></body></html>
